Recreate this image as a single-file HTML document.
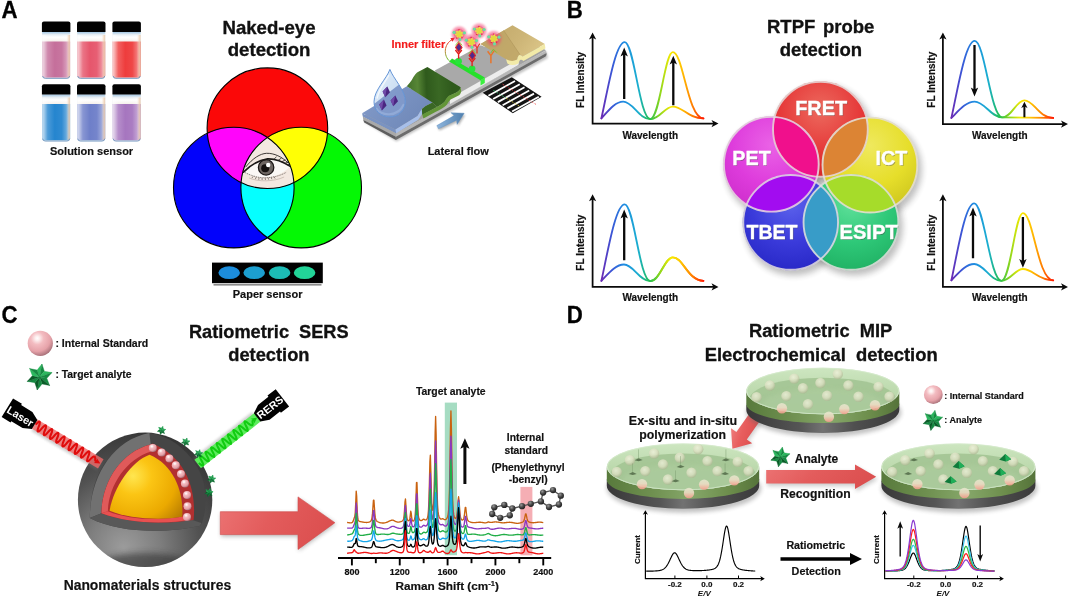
<!DOCTYPE html>
<html><head><meta charset="utf-8"><title>figure</title>
<style>
html,body{margin:0;padding:0;background:#fff;overflow:hidden;width:1072px;height:598px;font-family:"Liberation Sans",sans-serif;}
svg{display:block;}
</style></head>
<body>
<svg width="1072" height="598" viewBox="0 0 1072 598">
<rect width="1072" height="598" fill="#fff"/>
<g opacity="0.999">

<defs>
<filter id="b1" x="-20%" y="-20%" width="140%" height="140%"><feGaussianBlur stdDeviation="1"/></filter>
<filter id="b2" x="-30%" y="-30%" width="160%" height="160%"><feGaussianBlur stdDeviation="2"/></filter>
<filter id="b3" x="-30%" y="-30%" width="160%" height="160%"><feGaussianBlur stdDeviation="3"/></filter>
<filter id="b05" x="-20%" y="-20%" width="140%" height="140%"><feGaussianBlur stdDeviation="0.5"/></filter>
<filter id="soft" x="-5%" y="-5%" width="110%" height="110%"><feGaussianBlur stdDeviation="0.35"/></filter>
<radialGradient id="gPink" cx="0.38" cy="0.3" r="0.72"><stop offset="0" stop-color="#fff"/><stop offset="0.12" stop-color="#fdeeee"/><stop offset="0.35" stop-color="#f3bcc1"/><stop offset="0.72" stop-color="#e6a2a9"/><stop offset="1" stop-color="#a9727a"/></radialGradient>
<radialGradient id="gCream" cx="0.42" cy="0.36" r="0.68"><stop offset="0" stop-color="#f0f2dc"/><stop offset="0.55" stop-color="#dcdfc2"/><stop offset="1" stop-color="#a8b48e"/></radialGradient>
<linearGradient id="gCreamP" x1="0" y1="0" x2="0" y2="1"><stop offset="0" stop-color="#e4e6cc"/><stop offset="0.45" stop-color="#ecdcc4"/><stop offset="0.8" stop-color="#f4b4a0"/><stop offset="1" stop-color="#ee9a8a"/></linearGradient>
<radialGradient id="gAtom" cx="0.38" cy="0.32" r="0.7"><stop offset="0" stop-color="#9a9a9a"/><stop offset="0.5" stop-color="#4a4a4a"/><stop offset="1" stop-color="#1c1c1c"/></radialGradient>
</defs>
<text transform="translate(1.4 17.8) scale(0.955 1)" x="0" y="0" font-size="23.3" fill="#000" stroke="#000" stroke-width="0.3" font-family="Liberation Sans, sans-serif" font-weight="bold">A</text>
<defs><linearGradient id="vl0" x1="0" x2="1" y1="0" y2="0"><stop offset="0" stop-color="#fff" stop-opacity="0.75"/><stop offset="0.08" stop-color="#fff" stop-opacity="0.55"/><stop offset="0.2" stop-color="#fff" stop-opacity="0.18"/><stop offset="0.45" stop-color="#fff" stop-opacity="0"/><stop offset="0.7" stop-color="#fff" stop-opacity="0.05"/><stop offset="0.86" stop-color="#fff" stop-opacity="0.3"/><stop offset="0.95" stop-color="#f2d6bc" stop-opacity="0.8"/><stop offset="1" stop-color="#e6c8ac" stop-opacity="0.9"/></linearGradient><linearGradient id="vl1" x1="0" x2="1" y1="0" y2="0"><stop offset="0" stop-color="#fff" stop-opacity="0.75"/><stop offset="0.08" stop-color="#fff" stop-opacity="0.55"/><stop offset="0.2" stop-color="#fff" stop-opacity="0.18"/><stop offset="0.45" stop-color="#fff" stop-opacity="0"/><stop offset="0.7" stop-color="#fff" stop-opacity="0.05"/><stop offset="0.86" stop-color="#fff" stop-opacity="0.3"/><stop offset="0.95" stop-color="#f2d6bc" stop-opacity="0.8"/><stop offset="1" stop-color="#e6c8ac" stop-opacity="0.9"/></linearGradient><linearGradient id="vl2" x1="0" x2="1" y1="0" y2="0"><stop offset="0" stop-color="#fff" stop-opacity="0.75"/><stop offset="0.08" stop-color="#fff" stop-opacity="0.55"/><stop offset="0.2" stop-color="#fff" stop-opacity="0.18"/><stop offset="0.45" stop-color="#fff" stop-opacity="0"/><stop offset="0.7" stop-color="#fff" stop-opacity="0.05"/><stop offset="0.86" stop-color="#fff" stop-opacity="0.3"/><stop offset="0.95" stop-color="#f2d6bc" stop-opacity="0.8"/><stop offset="1" stop-color="#e6c8ac" stop-opacity="0.9"/></linearGradient><linearGradient id="vl3" x1="0" x2="1" y1="0" y2="0"><stop offset="0" stop-color="#fff" stop-opacity="0.75"/><stop offset="0.08" stop-color="#fff" stop-opacity="0.55"/><stop offset="0.2" stop-color="#fff" stop-opacity="0.18"/><stop offset="0.45" stop-color="#fff" stop-opacity="0"/><stop offset="0.7" stop-color="#fff" stop-opacity="0.05"/><stop offset="0.86" stop-color="#fff" stop-opacity="0.3"/><stop offset="0.95" stop-color="#f2d6bc" stop-opacity="0.8"/><stop offset="1" stop-color="#e6c8ac" stop-opacity="0.9"/></linearGradient><linearGradient id="vl4" x1="0" x2="1" y1="0" y2="0"><stop offset="0" stop-color="#fff" stop-opacity="0.75"/><stop offset="0.08" stop-color="#fff" stop-opacity="0.55"/><stop offset="0.2" stop-color="#fff" stop-opacity="0.18"/><stop offset="0.45" stop-color="#fff" stop-opacity="0"/><stop offset="0.7" stop-color="#fff" stop-opacity="0.05"/><stop offset="0.86" stop-color="#fff" stop-opacity="0.3"/><stop offset="0.95" stop-color="#f2d6bc" stop-opacity="0.8"/><stop offset="1" stop-color="#e6c8ac" stop-opacity="0.9"/></linearGradient><linearGradient id="vl5" x1="0" x2="1" y1="0" y2="0"><stop offset="0" stop-color="#fff" stop-opacity="0.75"/><stop offset="0.08" stop-color="#fff" stop-opacity="0.55"/><stop offset="0.2" stop-color="#fff" stop-opacity="0.18"/><stop offset="0.45" stop-color="#fff" stop-opacity="0"/><stop offset="0.7" stop-color="#fff" stop-opacity="0.05"/><stop offset="0.86" stop-color="#fff" stop-opacity="0.3"/><stop offset="0.95" stop-color="#f2d6bc" stop-opacity="0.8"/><stop offset="1" stop-color="#e6c8ac" stop-opacity="0.9"/></linearGradient><linearGradient id="vneck" x1="0" x2="0" y1="0" y2="1"><stop offset="0" stop-color="#9fc4e2"/><stop offset="0.25" stop-color="#e4ecf2"/><stop offset="0.5" stop-color="#ffffff"/><stop offset="1" stop-color="#f3ece6"/></linearGradient></defs>
<rect x="42.199999999999996" y="30.900000000000002" width="27.9" height="47.5" rx="2.2" fill="#dfe8ef"/>
<rect x="42.199999999999996" y="31.900000000000002" width="27.9" height="10.500000000000004" fill="url(#vneck)"/>
<path d="M42.199999999999996 41.400000000000006 H70.10000000000001 V75.80000000000001 Q70.10000000000001 77.60000000000001 67.80000000000001 77.60000000000001 H44.5 Q42.199999999999996 77.60000000000001 42.199999999999996 75.80000000000001 Z" fill="#c56f9b"/>
<path d="M42.199999999999996 34.900000000000006 H70.10000000000001 V75.80000000000001 Q70.10000000000001 77.60000000000001 67.80000000000001 77.60000000000001 H44.5 Q42.199999999999996 77.60000000000001 42.199999999999996 75.80000000000001 Z" fill="url(#vl0)"/>
<path d="M42.699999999999996 76.0 Q42.9 78.4 45.4 78.4 H66.9 Q69.4 78.4 69.60000000000001 76.0" fill="none" stroke="#5b86b4" stroke-width="0.9" opacity="0.8"/>
<path d="M41.9 31.900000000000002 V23.6 Q41.9 21.6 43.9 21.6 H68.4 Q70.4 21.6 70.4 23.6 V31.900000000000002 Z" fill="#000"/>
<rect x="77.3" y="30.900000000000002" width="27.9" height="47.5" rx="2.2" fill="#dfe8ef"/>
<rect x="77.3" y="31.900000000000002" width="27.9" height="10.500000000000004" fill="url(#vneck)"/>
<path d="M77.3 41.400000000000006 H105.2 V75.80000000000001 Q105.2 77.60000000000001 102.9 77.60000000000001 H79.6 Q77.3 77.60000000000001 77.3 75.80000000000001 Z" fill="#e6566c"/>
<path d="M77.3 34.900000000000006 H105.2 V75.80000000000001 Q105.2 77.60000000000001 102.9 77.60000000000001 H79.6 Q77.3 77.60000000000001 77.3 75.80000000000001 Z" fill="url(#vl1)"/>
<path d="M77.8 76.0 Q78.0 78.4 80.5 78.4 H102.0 Q104.5 78.4 104.7 76.0" fill="none" stroke="#5b86b4" stroke-width="0.9" opacity="0.8"/>
<path d="M77.0 31.900000000000002 V23.6 Q77.0 21.6 79.0 21.6 H103.5 Q105.5 21.6 105.5 23.6 V31.900000000000002 Z" fill="#000"/>
<rect x="112.7" y="30.900000000000002" width="27.9" height="47.5" rx="2.2" fill="#dfe8ef"/>
<rect x="112.7" y="31.900000000000002" width="27.9" height="10.500000000000004" fill="url(#vneck)"/>
<path d="M112.7 41.400000000000006 H140.6 V75.80000000000001 Q140.6 77.60000000000001 138.3 77.60000000000001 H115.0 Q112.7 77.60000000000001 112.7 75.80000000000001 Z" fill="#ee3d3d"/>
<path d="M112.7 34.900000000000006 H140.6 V75.80000000000001 Q140.6 77.60000000000001 138.3 77.60000000000001 H115.0 Q112.7 77.60000000000001 112.7 75.80000000000001 Z" fill="url(#vl2)"/>
<path d="M113.2 76.0 Q113.4 78.4 115.9 78.4 H137.4 Q139.9 78.4 140.1 76.0" fill="none" stroke="#5b86b4" stroke-width="0.9" opacity="0.8"/>
<path d="M112.4 31.900000000000002 V23.6 Q112.4 21.6 114.4 21.6 H138.9 Q140.9 21.6 140.9 23.6 V31.900000000000002 Z" fill="#000"/>
<rect x="42.199999999999996" y="93.6" width="27.9" height="47.5" rx="2.2" fill="#dfe8ef"/>
<rect x="42.199999999999996" y="94.6" width="27.9" height="10.5" fill="url(#vneck)"/>
<path d="M42.199999999999996 104.1 H70.10000000000001 V138.5 Q70.10000000000001 140.29999999999998 67.80000000000001 140.29999999999998 H44.5 Q42.199999999999996 140.29999999999998 42.199999999999996 138.5 Z" fill="#2585cf"/>
<path d="M42.199999999999996 97.6 H70.10000000000001 V138.5 Q70.10000000000001 140.29999999999998 67.80000000000001 140.29999999999998 H44.5 Q42.199999999999996 140.29999999999998 42.199999999999996 138.5 Z" fill="url(#vl3)"/>
<path d="M42.699999999999996 138.7 Q42.9 141.1 45.4 141.1 H66.9 Q69.4 141.1 69.60000000000001 138.7" fill="none" stroke="#5b86b4" stroke-width="0.9" opacity="0.8"/>
<path d="M41.9 94.6 V86.3 Q41.9 84.3 43.9 84.3 H68.4 Q70.4 84.3 70.4 86.3 V94.6 Z" fill="#000"/>
<rect x="77.3" y="93.6" width="27.9" height="47.5" rx="2.2" fill="#dfe8ef"/>
<rect x="77.3" y="94.6" width="27.9" height="10.5" fill="url(#vneck)"/>
<path d="M77.3 104.1 H105.2 V138.5 Q105.2 140.29999999999998 102.9 140.29999999999998 H79.6 Q77.3 140.29999999999998 77.3 138.5 Z" fill="#6e7fc9"/>
<path d="M77.3 97.6 H105.2 V138.5 Q105.2 140.29999999999998 102.9 140.29999999999998 H79.6 Q77.3 140.29999999999998 77.3 138.5 Z" fill="url(#vl4)"/>
<path d="M77.8 138.7 Q78.0 141.1 80.5 141.1 H102.0 Q104.5 141.1 104.7 138.7" fill="none" stroke="#5b86b4" stroke-width="0.9" opacity="0.8"/>
<path d="M77.0 94.6 V86.3 Q77.0 84.3 79.0 84.3 H103.5 Q105.5 84.3 105.5 86.3 V94.6 Z" fill="#000"/>
<rect x="112.7" y="93.6" width="27.9" height="47.5" rx="2.2" fill="#dfe8ef"/>
<rect x="112.7" y="94.6" width="27.9" height="10.5" fill="url(#vneck)"/>
<path d="M112.7 104.1 H140.6 V138.5 Q140.6 140.29999999999998 138.3 140.29999999999998 H115.0 Q112.7 140.29999999999998 112.7 138.5 Z" fill="#a676bf"/>
<path d="M112.7 97.6 H140.6 V138.5 Q140.6 140.29999999999998 138.3 140.29999999999998 H115.0 Q112.7 140.29999999999998 112.7 138.5 Z" fill="url(#vl5)"/>
<path d="M113.2 138.7 Q113.4 141.1 115.9 141.1 H137.4 Q139.9 141.1 140.1 138.7" fill="none" stroke="#5b86b4" stroke-width="0.9" opacity="0.8"/>
<path d="M112.4 94.6 V86.3 Q112.4 84.3 114.4 84.3 H138.9 Q140.9 84.3 140.9 86.3 V94.6 Z" fill="#000"/>
<text x="91.6" y="154.6" font-size="11" text-anchor="middle" fill="#111" font-family="Liberation Sans, sans-serif" font-weight="bold"  stroke="#111" stroke-width="0.18">Solution sensor</text>
<text x="269.0" y="33.5" font-size="18.6" text-anchor="middle" fill="#111" font-family="Liberation Sans, sans-serif" font-weight="bold" stroke="#111" stroke-width="0.35">Naked-eye</text>
<text x="269.1" y="56.2" font-size="18.6" text-anchor="middle" fill="#111" font-family="Liberation Sans, sans-serif" font-weight="bold" stroke="#111" stroke-width="0.35">detection</text>
<defs><clipPath id="cR"><circle cx="267.4" cy="128.2" r="60.3"/></clipPath><clipPath id="cB"><circle cx="233.8" cy="187.6" r="60.3"/></clipPath><clipPath id="cG"><circle cx="301.2" cy="187.6" r="60.3"/></clipPath></defs>
<circle cx="267.4" cy="128.2" r="60.3" fill="#fb0808"/>
<circle cx="233.8" cy="187.6" r="60.3" fill="#0202fb"/>
<circle cx="301.2" cy="187.6" r="60.3" fill="#04f804"/>
<g clip-path="url(#cR)"><circle cx="233.8" cy="187.6" r="60.3" fill="#ff05fb"/><circle cx="301.2" cy="187.6" r="60.3" fill="#ffff05"/></g>
<g clip-path="url(#cB)"><circle cx="301.2" cy="187.6" r="60.3" fill="#05ffff"/></g>
<g clip-path="url(#cR)"><g clip-path="url(#cB)"><g clip-path="url(#cG)"><rect x="230" y="125" width="80" height="70" fill="#f3e8e0"/>
<g transform="translate(266.1,167.4)">
<path d="M-22.3 4.6 C-15 -3 -8 -7 1.5 -8.3 C8 -8.6 16 -6 24 -1 C18 5.5 8 10.5 -3.5 10 C-11 9.6 -18 7.4 -22.3 4.6Z" fill="#fbf8f5"/>
<path d="M-20.6 -0.2 C-13 -9.5 -6 -13.6 0.3 -14.1 C8 -14.4 16 -10.5 21.8 -4.6" fill="none" stroke="#2a2522" stroke-width="0.9"/>
<circle cx="0" cy="0" r="7.7" fill="#6e6662" stroke="#1c1816" stroke-width="1.3"/>
<circle cx="-0.9" cy="0.9" r="4" fill="#15110f"/>
<circle cx="2.1" cy="-2.4" r="2.2" fill="#fff"/>
<path d="M-22.6 4.8 C-15 -3 -8 -7.2 1.5 -8.5 C8 -8.8 16 -6.2 24.2 -1" fill="none" stroke="#1c1816" stroke-width="1.7" stroke-linecap="round"/>
<path d="M12 -7 l3.4 -2.4 M15.6 -5.6 l3.8 -2 M18.6 -4 l4 -1.6 M21 -2.6 l4 -0.6 M8 -8.2 l2.4 -2.6" stroke="#2a2522" stroke-width="0.8" fill="none"/>
<path d="M-21 5.2 C-14 8.6 -8 10.2 -3.5 10.3 C6 10.6 14 8.4 20 5" fill="none" stroke="#5a524c" stroke-width="0.7" stroke-dasharray="1.2 0.7"/>
<path d="M-13 9 l-1.2 1.8 M-10 9.8 l-0.8 2 M-7 10.4 l-0.4 2 M-4 10.6 l0 2 M-1 10.6 l0.4 2 M2 10.4 l0.6 1.9 M5 10 l0.8 1.8 M8 9.4 l1 1.7" stroke="#4a423c" stroke-width="0.6" fill="none"/>
<path d="M-17 10.6 C-8 14.6 8 14.4 18 9.6" fill="none" stroke="#b9aaa0" stroke-width="0.6"/>
</g>
</g></g></g>
<circle cx="267.4" cy="128.2" r="60.3" fill="none" stroke="#000" stroke-width="1.1"/>
<circle cx="233.8" cy="187.6" r="60.3" fill="none" stroke="#000" stroke-width="1.1"/>
<circle cx="301.2" cy="187.6" r="60.3" fill="none" stroke="#000" stroke-width="1.1"/>
<rect x="213.5" y="284" width="108" height="1.6" fill="#8c8c8c"/>
<rect x="212" y="262.6" width="110.8" height="20.6" fill="#000"/>
<ellipse cx="229.2" cy="272.7" rx="10.8" ry="6.4" fill="#1a8ddc" filter="url(#b05)"/>
<ellipse cx="254.2" cy="272.7" rx="10.8" ry="6.4" fill="#1b9fd0" filter="url(#b05)"/>
<ellipse cx="279.6" cy="272.7" rx="10.8" ry="6.4" fill="#1fbcb6" filter="url(#b05)"/>
<ellipse cx="304.6" cy="272.7" rx="10.8" ry="6.4" fill="#22d498" filter="url(#b05)"/>
<text x="267.6" y="298" font-size="11" text-anchor="middle" fill="#111" font-family="Liberation Sans, sans-serif" font-weight="bold"  stroke="#111" stroke-width="0.18">Paper sensor</text><defs>
<linearGradient id="lfGreen" gradientUnits="userSpaceOnUse" x1="408" y1="88" x2="452" y2="86"><stop offset="0" stop-color="#44722b"/><stop offset="0.22" stop-color="#578636"/><stop offset="0.42" stop-color="#2f5a1c"/><stop offset="0.7" stop-color="#3a6824"/><stop offset="1" stop-color="#2f5a1c"/></linearGradient>
<linearGradient id="lfBlue" x1="0" y1="0" x2="1" y2="0.6"><stop offset="0" stop-color="#849cca"/><stop offset="1" stop-color="#6f88b8"/></linearGradient>
<linearGradient id="lfBeige" gradientUnits="userSpaceOnUse" x1="490" y1="30" x2="530" y2="60"><stop offset="0" stop-color="#c2a96b"/><stop offset="0.6" stop-color="#cdb577"/><stop offset="1" stop-color="#d9c385"/></linearGradient>
<linearGradient id="lfDrop" x1="0" y1="0" x2="0" y2="1"><stop offset="0" stop-color="#e2effb" stop-opacity="0.95"/><stop offset="0.42" stop-color="#bcd5f0" stop-opacity="0.92"/><stop offset="0.5" stop-color="#86a2d2" stop-opacity="0.95"/><stop offset="1" stop-color="#6f8cc2" stop-opacity="0.97"/></linearGradient>
<linearGradient id="lfArr" x1="0" y1="0" x2="1" y2="0"><stop offset="0" stop-color="#8fb5dc"/><stop offset="1" stop-color="#4f7fae"/></linearGradient>
</defs>
<polygon points="364.0,122.0 396.5,141.5 548.0,58.0 546.0,51.0" fill="#888" filter="url(#b1)" opacity="0.5"/>
<polygon points="362.8,116.5 396.2,133.2 546.0,50.3 513.0,31.5" fill="#a3a3a3" />
<path d="M396.2 133.2 L544.6 51.2 Q546.6 50.4 546.5 53 L395.9 136.7 Z" fill="#b7b7b7"/>
<path d="M395.9 136.7 L546.5 53 Q546.9 55.6 545.6 56.6 L395.9 139.9 Z" fill="#6c6c6c"/>
<polygon points="362.8,116.5 396.2,133.2 395.9,136.7 363.2,119.7" fill="#a9a9a9" />
<polygon points="363.2,119.7 395.9,136.7 395.9,139.9 364.2,122.6" fill="#5e5e5e" />
<polygon points="434.8,70.6 480.9,45.2 517.0,60.5 450.0,98.6" fill="#a9a9a9" />
<path d="M449.6 98.4 L516.6 60.6 Q519.8 61.6 518.4 65.0 L450 104.0 Z" fill="#ececec"/>
<polygon points="449.2,61.6 452.0,58.4 484.8,77.5 480.5,80.3" fill="#25e02a" />
<polygon points="480.5,80.3 484.8,77.5 484.8,83.0 480.5,85.6" fill="#3bf03f" />
<path d="M480.5 44.1 L512.5 25.2 L544.9 44.1 L522.6 56.6 Q520.6 54.2 518.6 55.2 Q517.4 57 517.2 59.8 Q512 62.6 506.6 59.6 Z" fill="url(#lfBeige)"/>
<path d="M480.5 44.1 L503.6 30.4 L520 54.6 Q517.6 56 517.2 59.8 Q512 62.6 506.6 59.6 Z" fill="#bea566" opacity="0.8"/>
<path d="M503.6 30.4 L520 54.6" stroke="#a89054" stroke-width="0.6" fill="none" opacity="0.8"/>
<path d="M506 59.2 Q512 62.4 517.2 59.6 Q517.4 57 518.8 55.2 Q520.8 54.4 522.6 56.6 L544.9 44.1 L545.4 48.4 L523.4 61 Q521.4 59 520 60 Q519.2 61.4 518.4 63.4 Q512 66.6 507.4 63.4 Z" fill="#f2eaa8"/>
<path d="M362.1 113.3 L395.5 129.6 L417.5 116.1 Q419.6 112.6 421.8 109 Q426 105.4 432.4 102.6 L406.8 86.3 Z" fill="url(#lfBlue)"/>
<polygon points="362.1,113.3 395.5,129.6 396.2,133.2 362.8,116.5" fill="#7a93c2" />
<path d="M395.5 129.6 L417.5 116.1 Q419.6 112.6 421.8 109 Q426 105.4 432.4 102.6 L433.1 105.9 Q427 108.8 422.9 112.8 Q420.6 116.4 418.2 119.7 L396.2 133.2 Z" fill="#a7bfea"/>
<path d="M406.8 86.3 Q409.6 83 411.8 79.9 Q413.6 76.4 415.4 74.2 Q417 72.2 418.9 71.4 L427.4 67.1 L460.7 87.3 Q460.4 90.4 457 92.2 L449 96 Q446.6 98.4 445 101.6 Q442 104.8 437 107 L432.4 102.6 Z" fill="url(#lfGreen)"/>
<path d="M432.4 102.6 L437 107 L422.2 114.9 L421.8 109 Q426 105.4 432.4 102.6 Z" fill="#3a6824"/>
<path d="M422.2 114.6 L434.6 108.2 Q441 105.4 444.2 102.2 Q446 98.6 448.4 96 L457 92.2 Q460.4 90.4 460.7 87.3 L461.2 91.2 Q460.8 94.6 457.6 96 L450.6 99.4 Q448.4 101.6 446.6 105 Q443 108.6 435.4 111.9 L423.4 118.4 Z" fill="#639638"/>
<defs><clipPath id="dropClip"><path d="M389.9 69.4 C393.4 79 405.6 90 405.3 101.8 C405.1 110.8 398.2 116.9 389.6 116.9 C381 116.9 374 110.8 374 101.8 C374 90 386.6 79 389.9 69.4Z"/></clipPath><linearGradient id="dropHi" x1="0" y1="0" x2="1" y2="1"><stop offset="0" stop-color="#e4f0fb"/><stop offset="1" stop-color="#b4cdea"/></linearGradient></defs>
<path d="M389.9 69.4 C393.4 79 405.6 90 405.3 101.8 C405.1 110.8 398.2 116.9 389.6 116.9 C381 116.9 374 110.8 374 101.8 C374 90 386.6 79 389.9 69.4Z" fill="url(#dropHi)" opacity="0.93"/>
<g clip-path="url(#dropClip)"><polygon points="368,108.6 402,82.2 412,80 412,122 368,122" fill="#7c96c8" opacity="0.95"/><path d="M376 108 C380 116 398 118 404 104" fill="none" stroke="#9fb8e2" stroke-width="2.2" opacity="0.55"/></g>
<path d="M389.9 69.4 C393.4 79 405.6 90 405.3 101.8 C405.1 110.8 398.2 116.9 389.6 116.9 C381 116.9 374 110.8 374 101.8 C374 90 386.6 79 389.9 69.4Z" fill="none" stroke="#6494d6" stroke-width="1.0"/>
<path d="M377.2 98 C378.2 90.5 384.6 82.6 388.6 75.6" fill="none" stroke="#fff" stroke-width="1.4" opacity="0.7" stroke-linecap="round"/>
<polygon points="387.3,86.4 390.0,92.2 385.3,97.2 382.6,91.4" fill="#4a2680" />
<polygon points="387.3,86.4 386.1,91.8 385.3,97.2 382.6,91.4" fill="#6f4aa8" />
<polygon points="395.3,95.5 398.0,101.3 393.3,106.3 390.6,100.5" fill="#4a2680" />
<polygon points="395.3,95.5 394.1,100.9 393.3,106.3 390.6,100.5" fill="#6f4aa8" />
<polygon points="383.9,99.6 386.6,105.4 381.9,110.4 379.2,104.6" fill="#4a2680" />
<polygon points="383.9,99.6 382.7,105.0 381.9,110.4 379.2,104.6" fill="#6f4aa8" />
<polygon points="465.2,115.0 458.1,126.2 457.6,122.0 439.5,130.6 437.8,127.4 455.1,117.4 451.9,114.5" fill="#666" filter="url(#b1)" opacity="0.5"/>
<polygon points="464.2,113.2 457.1,124.4 456.6,120.2 438.5,128.8 436.8,125.6 454.1,115.6 450.9,112.7" fill="url(#lfArr)" stroke="#5d8dbd" stroke-width="0.4"/>
<polygon points="482.7,92.8 511.8,77.2 541.6,96.7 512.8,113.2" fill="#141414" />
<line x1="488.4" y1="95.8" x2="515.0" y2="81.0" stroke="#fff" stroke-width="1.8"/>
<line x1="493.1" y1="99.0" x2="519.8" y2="84.2" stroke="#fff" stroke-width="1.8"/>
<line x1="497.9" y1="102.1" x2="524.5" y2="87.3" stroke="#fff" stroke-width="1.8"/>
<line x1="502.6" y1="105.2" x2="529.2" y2="90.5" stroke="#fff" stroke-width="1.8"/>
<line x1="507.4" y1="108.4" x2="534.0" y2="93.6" stroke="#fff" stroke-width="1.8"/>
<line x1="512.1" y1="111.5" x2="538.8" y2="96.8" stroke="#fff" stroke-width="1.8"/>
<path d="M493.4 90.4 L506 98" stroke="#42d67e" stroke-width="0.8" stroke-dasharray="1.8 1.6" fill="none"/>
<path d="M506 98 L520 106.5" stroke="#e8d840" stroke-width="0.8" stroke-dasharray="1.8 1.6" fill="none"/>
<path d="M502.6 84.2 L536 104.4" stroke="#ee4a4a" stroke-width="0.8" stroke-dasharray="1.8 1.6" fill="none"/>
<defs><linearGradient id="arcG" x1="0" y1="0" x2="0" y2="1"><stop offset="0" stop-color="#f02020"/><stop offset="0.45" stop-color="#c87830"/><stop offset="1" stop-color="#5cc828"/></linearGradient></defs>
<path d="M449.8 61.4 C443.4 56 443.4 44 452.6 39.4" fill="none" stroke="url(#arcG)" stroke-width="1.0"/>
<polygon points="455.0,37.6 450.4,38.2 452.6,41.8" fill="#ee2020" />
<circle cx="458.6" cy="61.2" r="3.3" fill="#28e23c"/>
<path d="M458.6 58.7 V53.6 M458.6 54.0 L455.40000000000003 50.0 M458.6 54.0 L461.8 50.0" stroke="#e02020" stroke-width="1.4" fill="none"/>
<polygon points="458.8,42.8 462.0,47.4 458.8,52.0 455.6,47.4" fill="#4f2a8c" stroke="#e02828" stroke-width="1.1"/>
<path d="M455.40000000000003 45.4 L458.8 41.199999999999996 L462.20000000000005 45.4" fill="none" stroke="#8cc832" stroke-width="0.9"/>
<circle cx="472.1" cy="68.8" r="3.3" fill="#28e23c"/>
<path d="M472.1 66.3 V61.7 M472.1 62.1 L468.90000000000003 58.1 M472.1 62.1 L475.3 58.1" stroke="#e02020" stroke-width="1.4" fill="none"/>
<polygon points="472.3,50.9 475.5,55.5 472.3,60.1 469.1,55.5" fill="#4f2a8c" stroke="#e02828" stroke-width="1.1"/>
<path d="M468.90000000000003 53.5 L472.3 49.3 L475.70000000000005 53.5" fill="none" stroke="#8cc832" stroke-width="0.9"/>
<circle cx="479.1" cy="30.8" r="7.3999999999999995" fill="#f2406f" opacity="0.55" filter="url(#b1)"/><circle cx="479.1" cy="30.8" r="5.148" fill="#ec4c78" opacity="0.5"/><circle cx="479.1" cy="30.8" r="2.9699999999999998" fill="#e2d83e"/><circle cx="482.1" cy="32.1" r="0.85" fill="#eee24a"/><circle cx="480.0" cy="34.0" r="0.85" fill="#eee24a"/><circle cx="477.2" cy="33.5" r="0.85" fill="#eee24a"/><circle cx="475.8" cy="31.0" r="0.85" fill="#eee24a"/><circle cx="476.9" cy="28.3" r="0.85" fill="#eee24a"/><circle cx="479.7" cy="27.6" r="0.85" fill="#eee24a"/><circle cx="482.0" cy="29.2" r="0.85" fill="#eee24a"/><circle cx="481.8" cy="34.2" r="0.7" fill="#e2323f"/><circle cx="476.7" cy="34.4" r="0.7" fill="#e2323f"/><circle cx="474.9" cy="29.6" r="0.7" fill="#e2323f"/><circle cx="478.9" cy="26.4" r="0.7" fill="#e2323f"/><circle cx="483.2" cy="29.3" r="0.7" fill="#e2323f"/><circle cx="474.3" cy="29.0" r="1.6" fill="#68dfa2"/><circle cx="484.1" cy="29.5" r="1.6" fill="#68dfa2"/><circle cx="479.8" cy="35.9" r="1.6" fill="#68dfa2"/>
<path d="M477 53.6 V47.8 M477 48 L474.8 44.2 M477 48 L479.8 43.6" stroke="#e03a20" stroke-width="1.3" fill="none"/>
<circle cx="459.2" cy="34.2" r="7.7" fill="#f2406f" opacity="0.55" filter="url(#b1)"/><circle cx="459.2" cy="34.2" r="5.382000000000001" fill="#ec4c78" opacity="0.5"/><circle cx="459.2" cy="34.2" r="3.1050000000000004" fill="#e2d83e"/><circle cx="462.4" cy="35.5" r="0.85" fill="#eee24a"/><circle cx="460.1" cy="37.5" r="0.85" fill="#eee24a"/><circle cx="457.2" cy="37.0" r="0.85" fill="#eee24a"/><circle cx="455.8" cy="34.4" r="0.85" fill="#eee24a"/><circle cx="456.9" cy="31.6" r="0.85" fill="#eee24a"/><circle cx="459.8" cy="30.8" r="0.85" fill="#eee24a"/><circle cx="462.2" cy="32.6" r="0.85" fill="#eee24a"/><circle cx="462.0" cy="37.8" r="0.7" fill="#e2323f"/><circle cx="456.7" cy="38.0" r="0.7" fill="#e2323f"/><circle cx="454.8" cy="33.0" r="0.7" fill="#e2323f"/><circle cx="459.0" cy="29.7" r="0.7" fill="#e2323f"/><circle cx="463.5" cy="32.6" r="0.7" fill="#e2323f"/><circle cx="454.1" cy="32.4" r="1.6" fill="#68dfa2"/><circle cx="464.4" cy="32.8" r="1.6" fill="#68dfa2"/><circle cx="459.9" cy="39.5" r="1.6" fill="#68dfa2"/>
<circle cx="471.3" cy="42.0" r="7.7" fill="#f2406f" opacity="0.55" filter="url(#b1)"/><circle cx="471.3" cy="42.0" r="5.382000000000001" fill="#ec4c78" opacity="0.5"/><circle cx="471.3" cy="42.0" r="3.1050000000000004" fill="#e2d83e"/><circle cx="474.5" cy="43.3" r="0.85" fill="#eee24a"/><circle cx="472.2" cy="45.3" r="0.85" fill="#eee24a"/><circle cx="469.3" cy="44.8" r="0.85" fill="#eee24a"/><circle cx="467.9" cy="42.2" r="0.85" fill="#eee24a"/><circle cx="469.0" cy="39.4" r="0.85" fill="#eee24a"/><circle cx="471.9" cy="38.6" r="0.85" fill="#eee24a"/><circle cx="474.3" cy="40.4" r="0.85" fill="#eee24a"/><circle cx="474.1" cy="45.6" r="0.7" fill="#e2323f"/><circle cx="468.8" cy="45.8" r="0.7" fill="#e2323f"/><circle cx="466.9" cy="40.8" r="0.7" fill="#e2323f"/><circle cx="471.1" cy="37.5" r="0.7" fill="#e2323f"/><circle cx="475.6" cy="40.4" r="0.7" fill="#e2323f"/><circle cx="466.2" cy="40.2" r="1.6" fill="#68dfa2"/><circle cx="476.5" cy="40.6" r="1.6" fill="#68dfa2"/><circle cx="472.0" cy="47.3" r="1.6" fill="#68dfa2"/>
<path d="M490.9 63.3 V55.3 M490.9 55.6 L487.6 51.2 M490.9 55.6 L494.2 50.6" stroke="#e8742a" stroke-width="1.5" fill="none"/>
<path d="M490.6 53.2 L493.4 49.2 L496.8 52.6" stroke="#6cc23a" stroke-width="0.9" fill="none"/>
<circle cx="493.8" cy="38.6" r="7.7" fill="#f2406f" opacity="0.55" filter="url(#b1)"/><circle cx="493.8" cy="38.6" r="5.382000000000001" fill="#ec4c78" opacity="0.5"/><circle cx="493.8" cy="38.6" r="3.1050000000000004" fill="#e2d83e"/><circle cx="497.0" cy="39.9" r="0.85" fill="#eee24a"/><circle cx="494.7" cy="41.9" r="0.85" fill="#eee24a"/><circle cx="491.8" cy="41.4" r="0.85" fill="#eee24a"/><circle cx="490.4" cy="38.8" r="0.85" fill="#eee24a"/><circle cx="491.5" cy="36.0" r="0.85" fill="#eee24a"/><circle cx="494.4" cy="35.2" r="0.85" fill="#eee24a"/><circle cx="496.8" cy="37.0" r="0.85" fill="#eee24a"/><circle cx="496.6" cy="42.2" r="0.7" fill="#e2323f"/><circle cx="491.3" cy="42.4" r="0.7" fill="#e2323f"/><circle cx="489.4" cy="37.4" r="0.7" fill="#e2323f"/><circle cx="493.6" cy="34.1" r="0.7" fill="#e2323f"/><circle cx="498.1" cy="37.0" r="0.7" fill="#e2323f"/><circle cx="488.7" cy="36.8" r="1.6" fill="#68dfa2"/><circle cx="499.0" cy="37.2" r="1.6" fill="#68dfa2"/><circle cx="494.5" cy="43.9" r="1.6" fill="#68dfa2"/>
<text x="445.2" y="47.8" font-size="11" text-anchor="end" fill="#f31b1b" font-family="Liberation Sans, sans-serif" font-weight="bold"  stroke="#f31b1b" stroke-width="0.18">Inner filter</text>
<text x="458.2" y="154.8" font-size="11" text-anchor="middle" fill="#111" font-family="Liberation Sans, sans-serif" font-weight="bold"  stroke="#111" stroke-width="0.18">Lateral flow</text><text transform="translate(566.6999999999999 17.6) scale(0.955 1)" x="0" y="0" font-size="23.3" fill="#000" stroke="#000" stroke-width="0.3" font-family="Liberation Sans, sans-serif" font-weight="bold">B</text>
<text x="820.7" y="33.3" font-size="18.5" text-anchor="middle" fill="#111" font-family="Liberation Sans, sans-serif" font-weight="bold" word-spacing="2.6" stroke="#111" stroke-width="0.33">RTPF probe</text>
<text x="820.9" y="56.2" font-size="18.5" text-anchor="middle" fill="#111" font-family="Liberation Sans, sans-serif" font-weight="bold"  stroke="#111" stroke-width="0.33">detection</text>
<defs><linearGradient id="rb1" gradientUnits="userSpaceOnUse" x1="601.4" y1="0" x2="703.4" y2="0"><stop offset="0" stop-color="#6a2ab4"/><stop offset="0.1" stop-color="#3b55d6"/><stop offset="0.22" stop-color="#1f8ce2"/><stop offset="0.36" stop-color="#1aaed0"/><stop offset="0.47" stop-color="#22bf52"/><stop offset="0.56" stop-color="#7fd422"/><stop offset="0.68" stop-color="#f6ea00"/><stop offset="0.78" stop-color="#ffc400"/><stop offset="0.9" stop-color="#ff7a00"/><stop offset="1" stop-color="#ff1a00"/></linearGradient></defs>
<path d="M592.6 35.6 V123.6 H715.5" fill="none" stroke="#0a0a0a" stroke-width="1.75"/>
<path d="M592.6 32.6 l-3.6 7 l3.6 -1.8 l3.6 1.8 Z" fill="#0a0a0a"/>
<path d="M718.5 123.6 l-7 -3.6 l1.8 3.6 l-1.8 3.6 Z" fill="#0a0a0a"/>
<path d="M601.4 118.4 C606.85 112.69 614.48 101.60 623.20 101.60 C632.96 101.60 638.92 119.10 650.30 119.10 C659.75 119.10 664.70 106.60 672.80 106.60 C683.20 106.60 687.49 118.28 703.40 118.40 " fill="none" stroke="url(#rb1)" stroke-width="1.85" stroke-linejoin="round" stroke-linecap="round"/>
<path d="M601.4 118.4 C607.23 92.46 615.38 42.10 624.70 42.10 C633.92 42.10 639.55 119.10 650.30 119.10 C659.75 119.10 664.70 52.20 672.80 52.20 C683.20 52.20 687.49 117.74 703.40 118.40 " fill="none" stroke="url(#rb1)" stroke-width="1.85" stroke-linejoin="round" stroke-linecap="round"/>
<path d="M623.05 99 L623.05 55.00 L620.50 56.50 L624.2 47.6 L627.90 56.50 L625.35 55.00 L625.35 99 Z" fill="#0a0a0a"/>
<path d="M672.15 105.3 L672.15 63.10 L669.60 64.60 L673.3 55.7 L677.00 64.60 L674.45 63.10 L674.45 105.3 Z" fill="#0a0a0a"/>
<text x="584.2" y="80" font-size="10" text-anchor="middle" fill="#111" font-family="Liberation Sans, sans-serif" font-weight="bold" transform="rotate(-90 584.2 80)" stroke="#111" stroke-width="0.18">FL Intensity</text>
<text x="650.3" y="138.7" font-size="10" text-anchor="middle" fill="#111" font-family="Liberation Sans, sans-serif" font-weight="bold"  stroke="#111" stroke-width="0.18">Wavelength</text>
<defs><linearGradient id="rb2" gradientUnits="userSpaceOnUse" x1="951.4" y1="0" x2="1053.2" y2="0"><stop offset="0" stop-color="#6a2ab4"/><stop offset="0.1" stop-color="#3b55d6"/><stop offset="0.22" stop-color="#1f8ce2"/><stop offset="0.36" stop-color="#1aaed0"/><stop offset="0.47" stop-color="#22bf52"/><stop offset="0.56" stop-color="#7fd422"/><stop offset="0.68" stop-color="#f6ea00"/><stop offset="0.78" stop-color="#ffc400"/><stop offset="0.9" stop-color="#ff7a00"/><stop offset="1" stop-color="#ff1a00"/></linearGradient></defs>
<path d="M942.9 35.6 V124.1 H1065" fill="none" stroke="#0a0a0a" stroke-width="1.75"/>
<path d="M942.9 32.6 l-3.6 7 l3.6 -1.8 l3.6 1.8 Z" fill="#0a0a0a"/>
<path d="M1068 124.1 l-7 -3.6 l1.8 3.6 l-1.8 3.6 Z" fill="#0a0a0a"/>
<path d="M951.4 117.9 C957.23 112.36 965.38 101.60 974.70 101.60 C984.64 101.60 990.71 117.40 1002.30 117.40 L1053.2 117.9" fill="none" stroke="url(#rb2)" stroke-width="1.85" stroke-linejoin="round" stroke-linecap="round"/>
<path d="M951.4 117.9 C957.23 91.72 965.38 40.90 974.70 40.90 C984.64 40.90 990.71 117.40 1002.30 117.40 C1011.58 117.40 1016.44 100.30 1024.40 100.30 C1034.19 100.30 1038.22 117.72 1053.20 117.90 " fill="none" stroke="url(#rb2)" stroke-width="1.85" stroke-linejoin="round" stroke-linecap="round"/>
<path d="M973.35 45 L973.35 89.10 L970.80 87.60 L974.5 96.5 L978.20 87.60 L975.65 89.10 L975.65 45 Z" fill="#0a0a0a"/>
<path d="M1023.40 117.2 L1023.40 106.80 L1021.20 108.30 L1024.4 101.8 L1027.60 108.30 L1025.40 106.80 L1025.40 117.2 Z" fill="#0a0a0a"/>
<text x="935" y="79.7" font-size="10" text-anchor="middle" fill="#111" font-family="Liberation Sans, sans-serif" font-weight="bold" transform="rotate(-90 935 79.7)" stroke="#111" stroke-width="0.18">FL Intensity</text>
<text x="999.8" y="138.7" font-size="10" text-anchor="middle" fill="#111" font-family="Liberation Sans, sans-serif" font-weight="bold"  stroke="#111" stroke-width="0.18">Wavelength</text>
<defs><linearGradient id="rb3" gradientUnits="userSpaceOnUse" x1="601.4" y1="0" x2="703.4" y2="0"><stop offset="0" stop-color="#6a2ab4"/><stop offset="0.1" stop-color="#3b55d6"/><stop offset="0.22" stop-color="#1f8ce2"/><stop offset="0.36" stop-color="#1aaed0"/><stop offset="0.47" stop-color="#22bf52"/><stop offset="0.56" stop-color="#7fd422"/><stop offset="0.68" stop-color="#f6ea00"/><stop offset="0.78" stop-color="#ffc400"/><stop offset="0.9" stop-color="#ff7a00"/><stop offset="1" stop-color="#ff1a00"/></linearGradient></defs>
<path d="M592.6 197.3 V286.9 H715.5" fill="none" stroke="#0a0a0a" stroke-width="1.75"/>
<path d="M592.6 194.3 l-3.6 7 l3.6 -1.8 l3.6 1.8 Z" fill="#0a0a0a"/>
<path d="M718.5 286.9 l-7 -3.6 l1.8 3.6 l-1.8 3.6 Z" fill="#0a0a0a"/>
<path d="M601.4 280.8 C607.05 275.26 614.96 264.50 624.00 264.50 C633.47 264.50 639.25 281.10 650.30 281.10 C659.75 281.10 664.70 257.30 672.80 257.30 C683.20 257.30 687.49 280.56 703.40 280.80 " fill="none" stroke="url(#rb3)" stroke-width="1.85" stroke-linejoin="round" stroke-linecap="round"/>
<path d="M601.4 280.8 C607.23 254.82 615.38 204.40 624.70 204.40 C633.92 204.40 639.55 281.10 650.30 281.10 C659.75 281.10 664.70 257.30 672.80 257.30 C683.20 257.30 687.49 280.56 703.40 280.80 " fill="none" stroke="url(#rb3)" stroke-width="1.85" stroke-linejoin="round" stroke-linecap="round"/>
<path d="M623.05 260.3 L623.05 217.00 L620.50 218.50 L624.2 209.6 L627.90 218.50 L625.35 217.00 L625.35 260.3 Z" fill="#0a0a0a"/>
<text x="584.2" y="242.7" font-size="10" text-anchor="middle" fill="#111" font-family="Liberation Sans, sans-serif" font-weight="bold" transform="rotate(-90 584.2 242.7)" stroke="#111" stroke-width="0.18">FL Intensity</text>
<text x="650.3" y="301.1" font-size="10" text-anchor="middle" fill="#111" font-family="Liberation Sans, sans-serif" font-weight="bold"  stroke="#111" stroke-width="0.18">Wavelength</text>
<defs><linearGradient id="rb4" gradientUnits="userSpaceOnUse" x1="951.4" y1="0" x2="1053.2" y2="0"><stop offset="0" stop-color="#6a2ab4"/><stop offset="0.1" stop-color="#3b55d6"/><stop offset="0.22" stop-color="#1f8ce2"/><stop offset="0.36" stop-color="#1aaed0"/><stop offset="0.47" stop-color="#22bf52"/><stop offset="0.56" stop-color="#7fd422"/><stop offset="0.68" stop-color="#f6ea00"/><stop offset="0.78" stop-color="#ffc400"/><stop offset="0.9" stop-color="#ff7a00"/><stop offset="1" stop-color="#ff1a00"/></linearGradient></defs>
<path d="M942.9 197.3 V286.9 H1065" fill="none" stroke="#0a0a0a" stroke-width="1.75"/>
<path d="M942.9 194.3 l-3.6 7 l3.6 -1.8 l3.6 1.8 Z" fill="#0a0a0a"/>
<path d="M1068 286.9 l-7 -3.6 l1.8 3.6 l-1.8 3.6 Z" fill="#0a0a0a"/>
<path d="M951.4 280.3 C957.10 274.76 965.08 264.00 974.20 264.00 C984.03 264.00 990.03 280.80 1001.50 280.80 C1010.49 280.80 1015.20 269.00 1022.90 269.00 C1033.20 269.00 1037.44 280.19 1053.20 280.30 " fill="none" stroke="url(#rb4)" stroke-width="1.85" stroke-linejoin="round" stroke-linecap="round"/>
<path d="M951.4 280.3 C957.10 254.15 965.08 203.40 974.20 203.40 C984.03 203.40 990.03 280.80 1001.50 280.80 C1010.49 280.80 1015.20 213.10 1022.90 213.10 C1033.20 213.10 1037.44 279.63 1053.20 280.30 " fill="none" stroke="url(#rb4)" stroke-width="1.85" stroke-linejoin="round" stroke-linecap="round"/>
<path d="M971.85 258.3 L971.85 215.00 L969.30 216.50 L973 207.6 L976.70 216.50 L974.15 215.00 L974.15 258.3 Z" fill="#0a0a0a"/>
<path d="M1021.75 217.1 L1021.75 260.40 L1019.20 258.90 L1022.9 267.8 L1026.60 258.90 L1024.05 260.40 L1024.05 217.1 Z" fill="#0a0a0a"/>
<text x="935" y="242.7" font-size="10" text-anchor="middle" fill="#111" font-family="Liberation Sans, sans-serif" font-weight="bold" transform="rotate(-90 935 242.7)" stroke="#111" stroke-width="0.18">FL Intensity</text>
<text x="999.8" y="301.1" font-size="10" text-anchor="middle" fill="#111" font-family="Liberation Sans, sans-serif" font-weight="bold"  stroke="#111" stroke-width="0.18">Wavelength</text>
<defs><radialGradient id="fl0" cx="0.5" cy="0.3" r="0.75"><stop offset="0" stop-color="#ec6a5e"/><stop offset="0.55" stop-color="#e63a3a"/><stop offset="1" stop-color="#d22428"/></radialGradient><clipPath id="fc0"><circle cx="820.40" cy="129.30" r="48.0"/></clipPath><radialGradient id="fl1" cx="0.5" cy="0.3" r="0.75"><stop offset="0" stop-color="#efe95e"/><stop offset="0.55" stop-color="#e6de2a"/><stop offset="1" stop-color="#c9c21c"/></radialGradient><clipPath id="fc1"><circle cx="869.92" cy="165.06" r="48.0"/></clipPath><radialGradient id="fl2" cx="0.5" cy="0.3" r="0.75"><stop offset="0" stop-color="#5fe09a"/><stop offset="0.55" stop-color="#2ec878"/><stop offset="1" stop-color="#1faf62"/></radialGradient><clipPath id="fc2"><circle cx="850.94" cy="222.34" r="48.0"/></clipPath><radialGradient id="fl3" cx="0.5" cy="0.3" r="0.75"><stop offset="0" stop-color="#5c62ec"/><stop offset="0.55" stop-color="#3a3ada"/><stop offset="1" stop-color="#2626c4"/></radialGradient><clipPath id="fc3"><circle cx="790.66" cy="222.34" r="48.0"/></clipPath><radialGradient id="fl4" cx="0.5" cy="0.3" r="0.75"><stop offset="0" stop-color="#ea62e6"/><stop offset="0.55" stop-color="#de3cdc"/><stop offset="1" stop-color="#cc2cca"/></radialGradient><clipPath id="fc4"><circle cx="771.28" cy="164.26" r="48.0"/></clipPath></defs>
<circle cx="823.20" cy="133.50" r="49.0" fill="#444" opacity="0.34" filter="url(#b3)"/>
<circle cx="872.72" cy="169.26" r="49.0" fill="#444" opacity="0.34" filter="url(#b3)"/>
<circle cx="853.74" cy="226.54" r="49.0" fill="#444" opacity="0.34" filter="url(#b3)"/>
<circle cx="793.46" cy="226.54" r="49.0" fill="#444" opacity="0.34" filter="url(#b3)"/>
<circle cx="774.08" cy="168.46" r="49.0" fill="#444" opacity="0.34" filter="url(#b3)"/>
<circle cx="820.40" cy="129.30" r="48.0" fill="url(#fl0)"/>
<circle cx="869.92" cy="165.06" r="48.0" fill="url(#fl1)"/>
<circle cx="850.94" cy="222.34" r="48.0" fill="url(#fl2)"/>
<circle cx="790.66" cy="222.34" r="48.0" fill="url(#fl3)"/>
<circle cx="771.28" cy="164.26" r="48.0" fill="url(#fl4)"/>
<g clip-path="url(#fc0)"><circle cx="869.92" cy="165.06" r="48.0" fill="#dc8434"/></g>
<g clip-path="url(#fc1)"><circle cx="850.94" cy="222.34" r="48.0" fill="#a6dc2a"/></g>
<g clip-path="url(#fc2)"><circle cx="790.66" cy="222.34" r="48.0" fill="#389cc8"/></g>
<g clip-path="url(#fc3)"><circle cx="771.28" cy="164.26" r="48.0" fill="#a20cf0"/></g>
<g clip-path="url(#fc4)"><circle cx="820.40" cy="129.30" r="48.0" fill="#f0108c"/></g>
<circle cx="820.40" cy="129.30" r="47.4" fill="none" stroke="#e4dede" stroke-width="1.9" opacity="0.85"/>
<circle cx="869.92" cy="165.06" r="47.4" fill="none" stroke="#e4dede" stroke-width="1.9" opacity="0.85"/>
<circle cx="850.94" cy="222.34" r="47.4" fill="none" stroke="#e4dede" stroke-width="1.9" opacity="0.85"/>
<circle cx="790.66" cy="222.34" r="47.4" fill="none" stroke="#e4dede" stroke-width="1.9" opacity="0.85"/>
<circle cx="771.28" cy="164.26" r="47.4" fill="none" stroke="#e4dede" stroke-width="1.9" opacity="0.85"/>
<text x="821.9000000000001" y="115.7" font-size="19.9" text-anchor="middle" fill="#444" font-family="Liberation Sans, sans-serif" font-weight="bold" opacity="0.45" filter="url(#b05)">FRET</text>
<text x="821.2" y="114.8" font-size="19.9" text-anchor="middle" fill="#fff" font-family="Liberation Sans, sans-serif" font-weight="bold"  stroke="#fff" stroke-width="0.33">FRET</text>
<text x="892.1" y="166.3" font-size="19.8" text-anchor="middle" fill="#444" font-family="Liberation Sans, sans-serif" font-weight="bold" opacity="0.45" filter="url(#b05)">ICT</text>
<text x="891.4" y="165.4" font-size="19.8" text-anchor="middle" fill="#fff" font-family="Liberation Sans, sans-serif" font-weight="bold"  stroke="#fff" stroke-width="0.33">ICT</text>
<text x="869.3000000000001" y="240.3" font-size="20.2" text-anchor="middle" fill="#444" font-family="Liberation Sans, sans-serif" font-weight="bold" opacity="0.45" filter="url(#b05)">ESIPT</text>
<text x="868.6" y="239.4" font-size="20.2" text-anchor="middle" fill="#fff" font-family="Liberation Sans, sans-serif" font-weight="bold"  stroke="#fff" stroke-width="0.33">ESIPT</text>
<text x="772.7" y="240.3" font-size="19.6" text-anchor="middle" fill="#444" font-family="Liberation Sans, sans-serif" font-weight="bold" opacity="0.45" filter="url(#b05)">TBET</text>
<text x="772" y="239.4" font-size="19.6" text-anchor="middle" fill="#fff" font-family="Liberation Sans, sans-serif" font-weight="bold"  stroke="#fff" stroke-width="0.33">TBET</text>
<text x="752.2" y="166.3" font-size="19.8" text-anchor="middle" fill="#444" font-family="Liberation Sans, sans-serif" font-weight="bold" opacity="0.45" filter="url(#b05)">PET</text>
<text x="751.5" y="165.4" font-size="19.8" text-anchor="middle" fill="#fff" font-family="Liberation Sans, sans-serif" font-weight="bold"  stroke="#fff" stroke-width="0.33">PET</text><text transform="translate(1.5 322.8) scale(0.955 1)" x="0" y="0" font-size="23.3" fill="#000" stroke="#000" stroke-width="0.3" font-family="Liberation Sans, sans-serif" font-weight="bold">C</text>
<circle cx="40.3" cy="343.3" r="12.6" fill="url(#gPink)"/>
<polygon points="39.60,377.00 37.11,370.04 41.96,364.01" fill="#2bb85e" stroke="#2bb85e" stroke-width="0.35" stroke-linejoin="round"/><polygon points="39.60,377.00 41.96,364.01 44.38,371.36" fill="#168a42" stroke="#168a42" stroke-width="0.35" stroke-linejoin="round"/><polygon points="39.60,377.00 44.38,371.36 52.03,372.55" fill="#2bb85e" stroke="#2bb85e" stroke-width="0.35" stroke-linejoin="round"/><polygon points="39.60,377.00 52.03,372.55 46.87,378.32" fill="#168a42" stroke="#168a42" stroke-width="0.35" stroke-linejoin="round"/><polygon points="39.60,377.00 46.87,378.32 49.67,385.54" fill="#168a42" stroke="#168a42" stroke-width="0.35" stroke-linejoin="round"/><polygon points="39.60,377.00 49.67,385.54 42.09,383.96" fill="#0a5c28" stroke="#0a5c28" stroke-width="0.35" stroke-linejoin="round"/><polygon points="39.60,377.00 42.09,383.96 37.24,389.99" fill="#168a42" stroke="#168a42" stroke-width="0.35" stroke-linejoin="round"/><polygon points="39.60,377.00 37.24,389.99 34.82,382.64" fill="#0a5c28" stroke="#0a5c28" stroke-width="0.35" stroke-linejoin="round"/><polygon points="39.60,377.00 34.82,382.64 27.17,381.45" fill="#168a42" stroke="#168a42" stroke-width="0.35" stroke-linejoin="round"/><polygon points="39.60,377.00 27.17,381.45 32.33,375.68" fill="#0a5c28" stroke="#0a5c28" stroke-width="0.35" stroke-linejoin="round"/><polygon points="39.60,377.00 32.33,375.68 29.53,368.46" fill="#2bb85e" stroke="#2bb85e" stroke-width="0.35" stroke-linejoin="round"/><polygon points="39.60,377.00 29.53,368.46 37.11,370.04" fill="#168a42" stroke="#168a42" stroke-width="0.35" stroke-linejoin="round"/>
<text x="55.4" y="347.3" font-size="10.5" text-anchor="start" fill="#111" font-family="Liberation Sans, sans-serif" font-weight="bold"  stroke="#111" stroke-width="0.18">: Internal Standard</text>
<text x="55.4" y="378" font-size="10.4" text-anchor="start" fill="#111" font-family="Liberation Sans, sans-serif" font-weight="bold"  stroke="#111" stroke-width="0.18">: Target analyte</text>
<text x="268.8" y="337.6" font-size="18.2" text-anchor="middle" fill="#111" font-family="Liberation Sans, sans-serif" font-weight="bold" stroke="#111" stroke-width="0.33" xml:space="preserve">Ratiometric  SERS</text>
<text x="268.9" y="360.7" font-size="18.3" text-anchor="middle" fill="#111" font-family="Liberation Sans, sans-serif" font-weight="bold"  stroke="#111" stroke-width="0.33">detection</text>
<defs>
<radialGradient id="sphG" cx="0.36" cy="0.82" r="0.95" fx="0.34" fy="0.86"><stop offset="0" stop-color="#9c9c9c"/><stop offset="0.28" stop-color="#7e7e7e"/><stop offset="0.58" stop-color="#525252"/><stop offset="0.85" stop-color="#3a3a3a"/><stop offset="1" stop-color="#2c2c2c"/></radialGradient>
<radialGradient id="goldG" gradientUnits="userSpaceOnUse" cx="133" cy="476" r="62"><stop offset="0" stop-color="#ffe650"/><stop offset="0.3" stop-color="#fbc514"/><stop offset="0.7" stop-color="#eba900"/><stop offset="1" stop-color="#b87c00"/></radialGradient>
<clipPath id="sphClip"><circle cx="145.1" cy="499.8" r="67.2"/></clipPath>
</defs>
<circle cx="145.1" cy="499.8" r="67.2" fill="url(#sphG)"/>
<g clip-path="url(#sphClip)"><ellipse cx="145.1" cy="575.0" rx="60.480000000000004" ry="22" fill="#2c2c2c" opacity="0.55" filter="url(#b3)"/></g>
<g clip-path="url(#sphClip)">
<path d="M149.4 433 C175 436 205 462 205.5 497 C205.6 510 204 518 201.5 524 L199.9 525.7 C170 533 120 534 89.8 518 C90 480 105 445 149.4 433 Z" fill="#454545"/>
<path d="M149.4 433 C112 440 90 478 89.8 518 L101.5 513.3 C102 482 121 452 150.7 444.6 Z" fill="#717171"/>
<path d="M89.8 518 C120 534 170 533 199.9 525.7 L201.4 523 L190.9 519.6 C165 524.6 128 523.4 101.5 513.3 Z" fill="#585858"/>
<path d="M150.7 444.6 C121 452 102 482 101.5 513.3 C128 523.4 165 524.6 193.6 520 C196.6 491 187 458 152.5 443.6 Z" fill="#b23030"/>
<path d="M150.7 444.6 C121 452 102 482 101.5 513.3 L107.9 511.2 C108.5 486 126 459 151.2 451.6 Z" fill="#e05a5a"/>
<path d="M101.5 513.3 C128 523.4 165 524.6 190.9 519.6 L183 516.6 C160 521 128 519.8 107.9 511.2 Z" fill="#e85050"/>
<path d="M149.6 454.8 C131 461 113 489 109.6 510.7 C128 518.6 160 520.6 182.2 516.8 C184 496 176 466 149.6 454.8 Z" fill="url(#goldG)"/>
</g>
<circle cx="152.8" cy="448" r="4.0" fill="url(#gPink)"/>
<circle cx="161.6" cy="452.4" r="4.0" fill="url(#gPink)"/>
<circle cx="169.4" cy="458.4" r="4.0" fill="url(#gPink)"/>
<circle cx="175.8" cy="465.3" r="4.0" fill="url(#gPink)"/>
<circle cx="181" cy="473.9" r="4.0" fill="url(#gPink)"/>
<circle cx="184.9" cy="483.5" r="4.0" fill="url(#gPink)"/>
<circle cx="187" cy="495.1" r="4.0" fill="url(#gPink)"/>
<circle cx="187.5" cy="506.3" r="4.0" fill="url(#gPink)"/>
<circle cx="187" cy="517" r="4.0" fill="url(#gPink)"/>
<g transform="translate(7.35 407.7) rotate(31.0)"><rect x="32.5" y="-3.2" width="76.5" height="10.8" fill="#777" opacity="0.35" filter="url(#b1)"/><rect x="31.5" y="-5.4" width="77.5" height="10.8" fill="#f26a6a" opacity="0.78"/><path d="M33.00 0 C33.87 -6.21 35.74 -6.21 36.61 0 C37.48 6.21 39.36 6.21 40.22 0 C41.09 -6.21 42.97 -6.21 43.83 0 C44.70 6.21 46.58 6.21 47.44 0 C48.31 -6.21 50.19 -6.21 51.06 0 C51.92 6.21 53.80 6.21 54.67 0 C55.53 -6.21 57.41 -6.21 58.28 0 C59.14 6.21 61.02 6.21 61.89 0 C62.76 -6.21 64.63 -6.21 65.50 0 C66.37 6.21 68.24 6.21 69.11 0 C69.98 -6.21 71.86 -6.21 72.72 0 C73.59 6.21 75.47 6.21 76.33 0 C77.20 -6.21 79.08 -6.21 79.94 0 C80.81 6.21 82.69 6.21 83.56 0 C84.42 -6.21 86.30 -6.21 87.17 0 C88.03 6.21 89.91 6.21 90.78 0 C91.64 -6.21 93.52 -6.21 94.39 0 C95.26 6.21 97.13 6.21 98.00 0 C99.50 -4.97 101.00 -2.98 102.50 0 L105.00 0" fill="none" stroke="#e00c0c" stroke-width="2.1" stroke-linejoin="round"/><path d="M108.5 0 L102.5 -3 L104 0 L102.5 3 Z" fill="#e00c0c"/></g>
<g transform="translate(7.35 407.7) rotate(31.5)"><path d="M0 -10.9 H10.4 V-9.4 H23.6 L32 -5.2 V5.4 L23.6 9.4 H10.4 V10.9 H0 Z" fill="#000"/><text x="15.6" y="4.4" font-size="10.8" text-anchor="middle" fill="#fff" font-family="Liberation Sans, sans-serif" font-weight="bold">Laser</text></g>
<g transform="translate(282.4 397.8) rotate(142.0)"><rect x="32.5" y="-3.0999999999999996" width="75.0" height="10.6" fill="#777" opacity="0.35" filter="url(#b1)"/><rect x="31.5" y="-5.3" width="76.0" height="10.6" fill="#5cec5c" opacity="1.0"/><g transform="translate(139.0 0) scale(-1 1)"><path d="M33.00 0 C33.85 -6.10 35.68 -6.10 36.53 0 C37.37 6.10 39.21 6.10 40.06 0 C40.90 -6.10 42.74 -6.10 43.58 0 C44.43 6.10 46.26 6.10 47.11 0 C47.96 -6.10 49.79 -6.10 50.64 0 C51.49 6.10 53.32 6.10 54.17 0 C55.01 -6.10 56.85 -6.10 57.69 0 C58.54 6.10 60.38 6.10 61.22 0 C62.07 -6.10 63.90 -6.10 64.75 0 C65.60 6.10 67.43 6.10 68.28 0 C69.12 -6.10 70.96 -6.10 71.81 0 C72.65 6.10 74.49 6.10 75.33 0 C76.18 -6.10 78.01 -6.10 78.86 0 C79.71 6.10 81.54 6.10 82.39 0 C83.24 -6.10 85.07 -6.10 85.92 0 C86.76 6.10 88.60 6.10 89.44 0 C90.29 -6.10 92.13 -6.10 92.97 0 C93.82 6.10 95.65 6.10 96.50 0 C98.00 -4.88 99.50 -2.93 101.00 0 L103.50 0" fill="none" stroke="#12cc12" stroke-width="2.1" stroke-linejoin="round"/><path d="M107.0 0 L101.0 -3 L102.5 0 L101.0 3 Z" fill="#12cc12"/></g></g>
<g transform="translate(282.4 397.8) rotate(142.0)"><path d="M0 -10.9 H10.4 V-9.4 H23.6 L32 -5.2 V5.4 L23.6 9.4 H10.4 V10.9 H0 Z" fill="#000"/><text x="15.6" y="4.4" font-size="10.8" text-anchor="middle" fill="#fff" font-family="Liberation Sans, sans-serif" font-weight="bold"></text></g>
<text transform="translate(270.0 407.3) rotate(-38)" x="0" y="3.9" font-size="10.8" text-anchor="middle" fill="#fff" font-family="Liberation Sans, sans-serif" font-weight="bold">RERS</text>
<polygon points="161.60,430.40 161.08,428.11 162.84,426.39" fill="#2bb85e" stroke="#2bb85e" stroke-width="0.35" stroke-linejoin="round"/><polygon points="161.60,430.40 162.84,426.39 163.33,428.80" fill="#168a42" stroke="#168a42" stroke-width="0.35" stroke-linejoin="round"/><polygon points="161.60,430.40 163.33,428.80 165.70,429.47" fill="#2bb85e" stroke="#2bb85e" stroke-width="0.35" stroke-linejoin="round"/><polygon points="161.60,430.40 165.70,429.47 163.85,431.10" fill="#168a42" stroke="#168a42" stroke-width="0.35" stroke-linejoin="round"/><polygon points="161.60,430.40 163.85,431.10 164.45,433.48" fill="#168a42" stroke="#168a42" stroke-width="0.35" stroke-linejoin="round"/><polygon points="161.60,430.40 164.45,433.48 162.12,432.69" fill="#0a5c28" stroke="#0a5c28" stroke-width="0.35" stroke-linejoin="round"/><polygon points="161.60,430.40 162.12,432.69 160.36,434.41" fill="#168a42" stroke="#168a42" stroke-width="0.35" stroke-linejoin="round"/><polygon points="161.60,430.40 160.36,434.41 159.87,432.00" fill="#0a5c28" stroke="#0a5c28" stroke-width="0.35" stroke-linejoin="round"/><polygon points="161.60,430.40 159.87,432.00 157.50,431.33" fill="#168a42" stroke="#168a42" stroke-width="0.35" stroke-linejoin="round"/><polygon points="161.60,430.40 157.50,431.33 159.35,429.70" fill="#0a5c28" stroke="#0a5c28" stroke-width="0.35" stroke-linejoin="round"/><polygon points="161.60,430.40 159.35,429.70 158.75,427.32" fill="#2bb85e" stroke="#2bb85e" stroke-width="0.35" stroke-linejoin="round"/><polygon points="161.60,430.40 158.75,427.32 161.08,428.11" fill="#168a42" stroke="#168a42" stroke-width="0.35" stroke-linejoin="round"/>
<polygon points="185.70,442.00 185.18,439.71 186.94,437.99" fill="#2bb85e" stroke="#2bb85e" stroke-width="0.35" stroke-linejoin="round"/><polygon points="185.70,442.00 186.94,437.99 187.43,440.40" fill="#168a42" stroke="#168a42" stroke-width="0.35" stroke-linejoin="round"/><polygon points="185.70,442.00 187.43,440.40 189.80,441.07" fill="#2bb85e" stroke="#2bb85e" stroke-width="0.35" stroke-linejoin="round"/><polygon points="185.70,442.00 189.80,441.07 187.95,442.70" fill="#168a42" stroke="#168a42" stroke-width="0.35" stroke-linejoin="round"/><polygon points="185.70,442.00 187.95,442.70 188.55,445.08" fill="#168a42" stroke="#168a42" stroke-width="0.35" stroke-linejoin="round"/><polygon points="185.70,442.00 188.55,445.08 186.22,444.29" fill="#0a5c28" stroke="#0a5c28" stroke-width="0.35" stroke-linejoin="round"/><polygon points="185.70,442.00 186.22,444.29 184.46,446.01" fill="#168a42" stroke="#168a42" stroke-width="0.35" stroke-linejoin="round"/><polygon points="185.70,442.00 184.46,446.01 183.97,443.60" fill="#0a5c28" stroke="#0a5c28" stroke-width="0.35" stroke-linejoin="round"/><polygon points="185.70,442.00 183.97,443.60 181.60,442.93" fill="#168a42" stroke="#168a42" stroke-width="0.35" stroke-linejoin="round"/><polygon points="185.70,442.00 181.60,442.93 183.45,441.30" fill="#0a5c28" stroke="#0a5c28" stroke-width="0.35" stroke-linejoin="round"/><polygon points="185.70,442.00 183.45,441.30 182.85,438.92" fill="#2bb85e" stroke="#2bb85e" stroke-width="0.35" stroke-linejoin="round"/><polygon points="185.70,442.00 182.85,438.92 185.18,439.71" fill="#168a42" stroke="#168a42" stroke-width="0.35" stroke-linejoin="round"/>
<polygon points="198.60,453.70 198.08,451.41 199.84,449.69" fill="#2bb85e" stroke="#2bb85e" stroke-width="0.35" stroke-linejoin="round"/><polygon points="198.60,453.70 199.84,449.69 200.33,452.10" fill="#168a42" stroke="#168a42" stroke-width="0.35" stroke-linejoin="round"/><polygon points="198.60,453.70 200.33,452.10 202.70,452.77" fill="#2bb85e" stroke="#2bb85e" stroke-width="0.35" stroke-linejoin="round"/><polygon points="198.60,453.70 202.70,452.77 200.85,454.40" fill="#168a42" stroke="#168a42" stroke-width="0.35" stroke-linejoin="round"/><polygon points="198.60,453.70 200.85,454.40 201.45,456.78" fill="#168a42" stroke="#168a42" stroke-width="0.35" stroke-linejoin="round"/><polygon points="198.60,453.70 201.45,456.78 199.12,455.99" fill="#0a5c28" stroke="#0a5c28" stroke-width="0.35" stroke-linejoin="round"/><polygon points="198.60,453.70 199.12,455.99 197.36,457.71" fill="#168a42" stroke="#168a42" stroke-width="0.35" stroke-linejoin="round"/><polygon points="198.60,453.70 197.36,457.71 196.87,455.30" fill="#0a5c28" stroke="#0a5c28" stroke-width="0.35" stroke-linejoin="round"/><polygon points="198.60,453.70 196.87,455.30 194.50,454.63" fill="#168a42" stroke="#168a42" stroke-width="0.35" stroke-linejoin="round"/><polygon points="198.60,453.70 194.50,454.63 196.35,453.00" fill="#0a5c28" stroke="#0a5c28" stroke-width="0.35" stroke-linejoin="round"/><polygon points="198.60,453.70 196.35,453.00 195.75,450.62" fill="#2bb85e" stroke="#2bb85e" stroke-width="0.35" stroke-linejoin="round"/><polygon points="198.60,453.70 195.75,450.62 198.08,451.41" fill="#168a42" stroke="#168a42" stroke-width="0.35" stroke-linejoin="round"/>
<polygon points="211.60,479.10 211.08,476.81 212.84,475.09" fill="#2bb85e" stroke="#2bb85e" stroke-width="0.35" stroke-linejoin="round"/><polygon points="211.60,479.10 212.84,475.09 213.33,477.50" fill="#168a42" stroke="#168a42" stroke-width="0.35" stroke-linejoin="round"/><polygon points="211.60,479.10 213.33,477.50 215.70,478.17" fill="#2bb85e" stroke="#2bb85e" stroke-width="0.35" stroke-linejoin="round"/><polygon points="211.60,479.10 215.70,478.17 213.85,479.80" fill="#168a42" stroke="#168a42" stroke-width="0.35" stroke-linejoin="round"/><polygon points="211.60,479.10 213.85,479.80 214.45,482.18" fill="#168a42" stroke="#168a42" stroke-width="0.35" stroke-linejoin="round"/><polygon points="211.60,479.10 214.45,482.18 212.12,481.39" fill="#0a5c28" stroke="#0a5c28" stroke-width="0.35" stroke-linejoin="round"/><polygon points="211.60,479.10 212.12,481.39 210.36,483.11" fill="#168a42" stroke="#168a42" stroke-width="0.35" stroke-linejoin="round"/><polygon points="211.60,479.10 210.36,483.11 209.87,480.70" fill="#0a5c28" stroke="#0a5c28" stroke-width="0.35" stroke-linejoin="round"/><polygon points="211.60,479.10 209.87,480.70 207.50,480.03" fill="#168a42" stroke="#168a42" stroke-width="0.35" stroke-linejoin="round"/><polygon points="211.60,479.10 207.50,480.03 209.35,478.40" fill="#0a5c28" stroke="#0a5c28" stroke-width="0.35" stroke-linejoin="round"/><polygon points="211.60,479.10 209.35,478.40 208.75,476.02" fill="#2bb85e" stroke="#2bb85e" stroke-width="0.35" stroke-linejoin="round"/><polygon points="211.60,479.10 208.75,476.02 211.08,476.81" fill="#168a42" stroke="#168a42" stroke-width="0.35" stroke-linejoin="round"/>
<polygon points="209.00,492.60 208.48,490.31 210.24,488.59" fill="#2bb85e" stroke="#2bb85e" stroke-width="0.35" stroke-linejoin="round"/><polygon points="209.00,492.60 210.24,488.59 210.73,491.00" fill="#168a42" stroke="#168a42" stroke-width="0.35" stroke-linejoin="round"/><polygon points="209.00,492.60 210.73,491.00 213.10,491.67" fill="#2bb85e" stroke="#2bb85e" stroke-width="0.35" stroke-linejoin="round"/><polygon points="209.00,492.60 213.10,491.67 211.25,493.30" fill="#168a42" stroke="#168a42" stroke-width="0.35" stroke-linejoin="round"/><polygon points="209.00,492.60 211.25,493.30 211.85,495.68" fill="#168a42" stroke="#168a42" stroke-width="0.35" stroke-linejoin="round"/><polygon points="209.00,492.60 211.85,495.68 209.52,494.89" fill="#0a5c28" stroke="#0a5c28" stroke-width="0.35" stroke-linejoin="round"/><polygon points="209.00,492.60 209.52,494.89 207.76,496.61" fill="#168a42" stroke="#168a42" stroke-width="0.35" stroke-linejoin="round"/><polygon points="209.00,492.60 207.76,496.61 207.27,494.20" fill="#0a5c28" stroke="#0a5c28" stroke-width="0.35" stroke-linejoin="round"/><polygon points="209.00,492.60 207.27,494.20 204.90,493.53" fill="#168a42" stroke="#168a42" stroke-width="0.35" stroke-linejoin="round"/><polygon points="209.00,492.60 204.90,493.53 206.75,491.90" fill="#0a5c28" stroke="#0a5c28" stroke-width="0.35" stroke-linejoin="round"/><polygon points="209.00,492.60 206.75,491.90 206.15,489.52" fill="#2bb85e" stroke="#2bb85e" stroke-width="0.35" stroke-linejoin="round"/><polygon points="209.00,492.60 206.15,489.52 208.48,490.31" fill="#168a42" stroke="#168a42" stroke-width="0.35" stroke-linejoin="round"/>
<defs><linearGradient id="redArr" x1="0" y1="0" x2="1" y2="0.25"><stop offset="0" stop-color="#ec7474"/><stop offset="0.5" stop-color="#e35c5c"/><stop offset="1" stop-color="#dc5050"/></linearGradient></defs>
<path d="M221 513.4 H298.6 V498.6 L336 524 L298.6 551 V536.4 H221 Z" fill="#777" opacity="0.5" filter="url(#b2)"/>
<path d="M220.3 511.7 H298 V496.9 L334.9 522.7 L298 549.5 V534.6 H220.3 Z" fill="url(#redArr)" stroke="#d24a4a" stroke-width="0.6"/>
<text x="147.4" y="590" font-size="13.9" text-anchor="middle" fill="#111" font-family="Liberation Sans, sans-serif" font-weight="bold"  stroke="#111" stroke-width="0.18">Nanomaterials structures</text>
<rect x="444.8" y="402.6" width="12.2" height="152.6" fill="#a6dcc2"/>
<rect x="520.4" y="486.9" width="12" height="68.4" fill="#f5aeb4"/>
<path d="M494.3 507.3 L504.3 504.9 L512.3 508.5 L509.8 515.3 L500.2 517.8 L492.2 514 Z M540.9 501.4 L543.1 492.6 L553 490.1 L560.8 495.7 L558.9 504.5 L549 507 Z M512.3 508.5 L522 506.2 L530.8 503.8 L540.9 501.4" fill="none" stroke="#555" stroke-width="1.3"/><circle cx="494.3" cy="507.3" r="3.15" fill="url(#gAtom)"/><circle cx="504.3" cy="504.9" r="3.15" fill="url(#gAtom)"/><circle cx="512.3" cy="508.5" r="3.15" fill="url(#gAtom)"/><circle cx="509.8" cy="515.3" r="3.15" fill="url(#gAtom)"/><circle cx="500.2" cy="517.8" r="3.15" fill="url(#gAtom)"/><circle cx="492.2" cy="514" r="3.15" fill="url(#gAtom)"/><circle cx="522" cy="506.2" r="3.15" fill="url(#gAtom)"/><circle cx="530.8" cy="503.8" r="3.15" fill="url(#gAtom)"/><circle cx="540.9" cy="501.4" r="3.15" fill="url(#gAtom)"/><circle cx="543.1" cy="492.6" r="3.15" fill="url(#gAtom)"/><circle cx="553" cy="490.1" r="3.15" fill="url(#gAtom)"/><circle cx="560.8" cy="495.7" r="3.15" fill="url(#gAtom)"/><circle cx="558.9" cy="504.5" r="3.15" fill="url(#gAtom)"/><circle cx="549" cy="507" r="3.15" fill="url(#gAtom)"/>
<path d="M347.12 522.39 L347.59 522.47 L348.07 522.56 L348.55 522.64 L349.03 522.72 L349.51 522.79 L349.99 522.83 L350.46 522.85 L350.94 522.84 L351.42 522.78 L351.90 522.64 L352.38 522.34 L352.86 521.73 L353.34 520.63 L353.81 519.10 L354.29 517.72 L354.77 516.63 L355.25 512.86 L355.73 502.74 L356.21 491.10 L356.68 496.25 L357.16 509.36 L357.64 516.93 L358.12 519.69 L358.60 520.64 L359.08 521.08 L359.55 521.33 L360.03 521.50 L360.51 521.62 L360.99 521.72 L361.47 521.81 L361.95 521.90 L362.42 521.98 L362.90 522.06 L363.38 522.15 L363.86 522.22 L364.34 522.30 L364.82 522.36 L365.30 522.41 L365.77 522.45 L366.25 522.47 L366.73 522.46 L367.21 522.44 L367.69 522.39 L368.17 522.31 L368.64 522.21 L369.12 522.06 L369.60 521.87 L370.08 521.63 L370.56 521.29 L371.04 520.78 L371.51 519.84 L371.99 517.81 L372.47 513.65 L372.95 506.94 L373.43 500.18 L373.91 500.16 L374.38 506.86 L374.86 513.54 L375.34 517.66 L375.82 519.66 L376.30 520.59 L376.78 521.11 L377.26 521.46 L377.73 521.74 L378.21 521.98 L378.69 522.18 L379.17 522.36 L379.65 522.52 L380.13 522.66 L380.60 522.78 L381.08 522.88 L381.56 522.95 L382.04 523.00 L382.52 523.03 L383.00 523.03 L383.47 523.01 L383.95 522.96 L384.43 522.89 L384.91 522.80 L385.39 522.69 L385.87 522.56 L386.34 522.41 L386.82 522.24 L387.30 522.06 L387.78 521.86 L388.26 521.65 L388.74 521.43 L389.22 521.20 L389.69 520.97 L390.17 520.74 L390.65 520.53 L391.13 520.35 L391.61 520.21 L392.09 520.13 L392.56 520.14 L393.04 520.23 L393.52 520.39 L394.00 520.60 L394.48 520.85 L394.96 521.10 L395.43 521.34 L395.91 521.55 L396.39 521.74 L396.87 521.88 L397.35 521.98 L397.83 522.05 L398.30 522.07 L398.78 522.06 L399.26 522.01 L399.74 521.93 L400.22 521.82 L400.70 521.68 L401.18 521.50 L401.65 521.29 L402.13 521.03 L402.61 520.67 L403.09 520.10 L403.57 518.93 L404.05 516.06 L404.52 510.05 L405.00 501.74 L405.48 498.94 L405.96 505.91 L406.44 513.52 L406.92 517.81 L407.39 519.62 L407.87 520.34 L408.35 520.66 L408.83 520.74 L409.31 520.40 L409.79 518.92 L410.26 515.32 L410.74 511.29 L411.22 513.07 L411.70 517.57 L412.18 520.12 L412.66 520.95 L413.14 521.05 L413.61 520.84 L414.09 520.32 L414.57 519.24 L415.05 516.61 L415.53 510.10 L416.01 497.40 L416.48 482.61 L416.96 482.52 L417.44 497.14 L417.92 509.68 L418.40 516.05 L418.88 518.57 L419.35 519.58 L419.83 520.08 L420.31 520.36 L420.79 520.49 L421.27 520.49 L421.75 520.36 L422.22 520.10 L422.70 519.72 L423.18 519.34 L423.66 519.15 L424.14 519.28 L424.62 519.58 L425.10 519.85 L425.57 519.95 L426.05 519.84 L426.53 519.49 L427.01 518.83 L427.49 517.71 L427.97 515.55 L428.44 510.82 L428.92 500.67 L429.40 482.94 L429.88 461.87 L430.36 455.11 L430.84 470.95 L431.31 490.68 L431.79 503.47 L432.27 509.14 L432.75 510.37 L433.23 508.53 L433.71 502.45 L434.18 488.69 L434.66 464.26 L435.14 433.22 L435.62 416.41 L436.10 433.62 L436.58 465.09 L437.06 490.03 L437.53 504.44 L438.01 511.41 L438.49 514.71 L438.97 516.50 L439.45 517.62 L439.93 518.36 L440.40 518.81 L440.88 519.02 L441.36 519.04 L441.84 518.93 L442.32 518.79 L442.80 518.76 L443.27 518.93 L443.75 519.22 L444.23 519.49 L444.71 519.66 L445.19 519.67 L445.67 519.52 L446.14 519.18 L446.62 518.65 L447.10 517.86 L447.58 516.70 L448.06 514.87 L448.54 511.44 L449.02 504.12 L449.49 488.89 L449.97 462.43 L450.45 429.03 L450.93 410.87 L451.41 429.07 L451.89 462.51 L452.36 489.00 L452.84 504.24 L453.32 511.55 L453.80 514.94 L454.28 516.70 L454.76 517.72 L455.23 518.30 L455.71 518.46 L456.19 518.03 L456.67 516.51 L457.15 513.11 L457.63 507.34 L458.10 500.36 L458.58 496.73 L459.06 500.47 L459.54 507.57 L460.02 513.48 L460.50 517.07 L460.98 518.85 L461.45 519.62 L461.93 519.92 L462.41 519.99 L462.89 519.86 L463.37 519.41 L463.85 518.24 L464.32 515.71 L464.80 511.54 L465.28 507.35 L465.76 507.42 L466.24 511.77 L466.72 516.09 L467.19 518.79 L467.67 520.15 L468.15 520.82 L468.63 521.21 L469.11 521.51 L469.59 521.74 L470.06 521.94 L470.54 522.11 L471.02 522.25 L471.50 522.37 L471.98 522.47 L472.46 522.54 L472.94 522.59 L473.41 522.62 L473.89 522.63 L474.37 522.63 L474.85 522.61 L475.33 522.57 L475.81 522.53 L476.28 522.48 L476.76 522.43 L477.24 522.38 L477.72 522.33 L478.20 522.30 L478.68 522.27 L479.15 522.25 L479.63 522.25 L480.11 522.26 L480.59 522.29 L481.07 522.33 L481.55 522.39 L482.02 522.45 L482.50 522.53 L482.98 522.61 L483.46 522.69 L483.94 522.76 L484.42 522.82 L484.90 522.86 L485.37 522.86 L485.85 522.81 L486.33 522.70 L486.81 522.53 L487.29 522.31 L487.77 522.10 L488.24 521.99 L488.72 522.02 L489.20 522.14 L489.68 522.28 L490.16 522.39 L490.64 522.44 L491.11 522.43 L491.59 522.39 L492.07 522.32 L492.55 522.24 L493.03 522.16 L493.51 522.09 L493.98 522.02 L494.46 521.97 L494.94 521.94 L495.42 521.93 L495.90 521.93 L496.38 521.96 L496.86 522.00 L497.33 522.05 L497.81 522.12 L498.29 522.20 L498.77 522.28 L499.25 522.37 L499.73 522.46 L500.20 522.54 L500.68 522.62 L501.16 522.69 L501.64 522.74 L502.12 522.78 L502.60 522.81 L503.07 522.82 L503.55 522.81 L504.03 522.79 L504.51 522.76 L504.99 522.71 L505.47 522.66 L505.94 522.60 L506.42 522.54 L506.90 522.47 L507.38 522.42 L507.86 522.37 L508.34 522.32 L508.82 522.30 L509.29 522.28 L509.77 522.28 L510.25 522.30 L510.73 522.34 L511.21 522.39 L511.69 522.46 L512.16 522.54 L512.64 522.62 L513.12 522.72 L513.60 522.82 L514.08 522.92 L514.56 523.01 L515.03 523.10 L515.51 523.18 L515.99 523.24 L516.47 523.29 L516.95 523.31 L517.43 523.32 L517.90 523.30 L518.38 523.26 L518.86 523.20 L519.34 523.12 L519.82 523.02 L520.30 522.90 L520.78 522.77 L521.25 522.61 L521.73 522.44 L522.21 522.25 L522.69 522.01 L523.17 521.69 L523.65 521.15 L524.12 520.16 L524.60 518.45 L525.08 516.05 L525.56 513.90 L526.04 513.90 L526.52 516.04 L526.99 518.43 L527.47 520.13 L527.95 521.10 L528.43 521.61 L528.91 521.91 L529.39 522.11 L529.86 522.26 L530.34 522.39 L530.82 522.49 L531.30 522.58 L531.78 522.64 L532.26 522.69 L532.74 522.71 L533.21 522.72 L533.69 522.71 L534.17 522.68 L534.65 522.64 L535.13 522.59 L535.61 522.53 L536.08 522.47 L536.56 522.40 L537.04 522.34 L537.52 522.28 L538.00 522.23 L538.48 522.19 L538.95 522.16 L539.43 522.15 L539.91 522.16 L540.39 522.19 L540.87 522.23 L541.35 522.29 L541.82 522.37 L542.30 522.46 L542.78 522.56 L543.26 522.67 " fill="none" stroke="#c96210" stroke-width="1.35" stroke-linejoin="round"/>
<path d="M347.12 528.16 L347.59 528.11 L348.07 528.08 L348.55 528.06 L349.03 528.06 L349.51 528.06 L349.99 528.08 L350.46 528.10 L350.94 528.12 L351.42 528.11 L351.90 528.06 L352.38 527.88 L352.86 527.42 L353.34 526.51 L353.81 525.19 L354.29 524.08 L354.77 523.43 L355.25 520.63 L355.73 512.50 L356.21 503.04 L356.68 507.44 L357.16 518.41 L357.64 524.75 L358.12 527.07 L358.60 527.86 L359.08 528.20 L359.55 528.36 L360.03 528.43 L360.51 528.44 L360.99 528.42 L361.47 528.38 L361.95 528.33 L362.42 528.28 L362.90 528.24 L363.38 528.20 L363.86 528.17 L364.34 528.16 L364.82 528.16 L365.30 528.17 L365.77 528.19 L366.25 528.21 L366.73 528.25 L367.21 528.28 L367.69 528.31 L368.17 528.33 L368.64 528.34 L369.12 528.32 L369.60 528.26 L370.08 528.15 L370.56 527.96 L371.04 527.61 L371.51 526.88 L371.99 525.24 L372.47 521.80 L372.95 516.22 L373.43 510.58 L373.91 510.51 L374.38 515.99 L374.86 521.44 L375.34 524.74 L375.82 526.28 L376.30 526.92 L376.78 527.21 L377.26 527.37 L377.73 527.48 L378.21 527.56 L378.69 527.64 L379.17 527.71 L379.65 527.79 L380.13 527.88 L380.60 527.97 L381.08 528.08 L381.56 528.19 L382.04 528.31 L382.52 528.43 L383.00 528.54 L383.47 528.65 L383.95 528.75 L384.43 528.83 L384.91 528.89 L385.39 528.93 L385.87 528.94 L386.34 528.92 L386.82 528.87 L387.30 528.77 L387.78 528.64 L388.26 528.47 L388.74 528.25 L389.22 528.01 L389.69 527.74 L390.17 527.45 L390.65 527.15 L391.13 526.87 L391.61 526.62 L392.09 526.43 L392.56 526.32 L393.04 526.30 L393.52 526.36 L394.00 526.48 L394.48 526.66 L394.96 526.86 L395.43 527.08 L395.91 527.29 L396.39 527.50 L396.87 527.69 L397.35 527.87 L397.83 528.02 L398.30 528.14 L398.78 528.24 L399.26 528.31 L399.74 528.35 L400.22 528.36 L400.70 528.32 L401.18 528.24 L401.65 528.11 L402.13 527.89 L402.61 527.56 L403.09 526.99 L403.57 525.79 L404.05 522.87 L404.52 516.78 L405.00 508.36 L405.48 505.44 L405.96 512.28 L406.44 519.74 L406.92 523.88 L407.39 525.54 L407.87 526.13 L408.35 526.34 L408.83 526.33 L409.31 526.00 L409.79 524.73 L410.26 521.71 L410.74 518.37 L411.22 519.86 L411.70 523.65 L412.18 525.83 L412.66 526.60 L413.14 526.79 L413.61 526.72 L414.09 526.40 L414.57 525.59 L415.05 523.42 L415.53 517.85 L416.01 506.85 L416.48 494.00 L416.96 494.01 L417.44 506.89 L417.92 517.92 L418.40 523.53 L418.88 525.73 L419.35 526.59 L419.83 526.97 L420.31 527.15 L420.79 527.17 L421.27 527.07 L421.75 526.83 L422.22 526.45 L422.70 525.97 L423.18 525.50 L423.66 525.24 L424.14 525.31 L424.62 525.59 L425.10 525.86 L425.57 526.01 L426.05 525.98 L426.53 525.75 L427.01 525.28 L427.49 524.44 L427.97 522.76 L428.44 518.94 L428.92 510.64 L429.40 496.04 L429.88 478.67 L430.36 473.16 L430.84 486.41 L431.31 502.87 L431.79 513.54 L432.27 518.29 L432.75 519.32 L433.23 517.78 L433.71 512.69 L434.18 501.21 L434.66 480.84 L435.14 454.97 L435.62 440.89 L436.10 455.03 L436.58 481.01 L437.06 501.56 L437.53 513.36 L438.01 519.01 L438.49 521.62 L438.97 522.99 L439.45 523.82 L439.93 524.34 L440.40 524.64 L440.88 524.76 L441.36 524.73 L441.84 524.61 L442.32 524.49 L442.80 524.53 L443.27 524.79 L443.75 525.19 L444.23 525.60 L444.71 525.92 L445.19 526.10 L445.67 526.12 L446.14 525.97 L446.62 525.62 L447.10 525.05 L447.58 524.15 L448.06 522.66 L448.54 519.82 L449.02 513.73 L449.49 501.05 L449.97 479.03 L450.45 451.22 L450.93 436.06 L451.41 451.06 L451.89 478.71 L452.36 500.58 L452.84 513.11 L453.32 519.07 L453.80 521.78 L454.28 523.15 L454.76 523.91 L455.23 524.29 L455.71 524.30 L456.19 523.71 L456.67 521.96 L457.15 518.16 L457.63 511.75 L458.10 504.01 L458.58 500.05 L459.06 504.35 L459.54 512.43 L460.02 519.18 L460.50 523.35 L460.98 525.47 L461.45 526.46 L461.93 526.91 L462.41 527.10 L462.89 527.06 L463.37 526.72 L463.85 525.75 L464.32 523.61 L464.80 520.09 L465.28 516.52 L465.76 516.47 L466.24 519.95 L466.72 523.40 L467.19 525.50 L467.67 526.49 L468.15 526.91 L468.63 527.12 L469.11 527.26 L469.59 527.37 L470.06 527.47 L470.54 527.57 L471.02 527.67 L471.50 527.78 L471.98 527.89 L472.46 528.01 L472.94 528.13 L473.41 528.25 L473.89 528.36 L474.37 528.47 L474.85 528.56 L475.33 528.65 L475.81 528.71 L476.28 528.77 L476.76 528.80 L477.24 528.82 L477.72 528.82 L478.20 528.81 L478.68 528.78 L479.15 528.74 L479.63 528.69 L480.11 528.63 L480.59 528.57 L481.07 528.51 L481.55 528.46 L482.02 528.41 L482.50 528.37 L482.98 528.34 L483.46 528.32 L483.94 528.31 L484.42 528.30 L484.90 528.30 L485.37 528.28 L485.85 528.24 L486.33 528.17 L486.81 528.05 L487.29 527.93 L487.77 527.83 L488.24 527.85 L488.72 528.02 L489.20 528.29 L489.68 528.59 L490.16 528.84 L490.64 529.04 L491.11 529.17 L491.59 529.24 L492.07 529.27 L492.55 529.26 L493.03 529.22 L493.51 529.16 L493.98 529.08 L494.46 528.98 L494.94 528.88 L495.42 528.77 L495.90 528.66 L496.38 528.55 L496.86 528.45 L497.33 528.35 L497.81 528.27 L498.29 528.21 L498.77 528.16 L499.25 528.13 L499.73 528.12 L500.20 528.12 L500.68 528.15 L501.16 528.19 L501.64 528.24 L502.12 528.31 L502.60 528.39 L503.07 528.47 L503.55 528.55 L504.03 528.63 L504.51 528.70 L504.99 528.77 L505.47 528.82 L505.94 528.86 L506.42 528.89 L506.90 528.90 L507.38 528.90 L507.86 528.88 L508.34 528.84 L508.82 528.80 L509.29 528.74 L509.77 528.68 L510.25 528.62 L510.73 528.55 L511.21 528.49 L511.69 528.43 L512.16 528.38 L512.64 528.34 L513.12 528.32 L513.60 528.31 L514.08 528.32 L514.56 528.35 L515.03 528.39 L515.51 528.45 L515.99 528.53 L516.47 528.61 L516.95 528.70 L517.43 528.80 L517.90 528.90 L518.38 528.99 L518.86 529.08 L519.34 529.16 L519.82 529.22 L520.30 529.25 L520.78 529.27 L521.25 529.26 L521.73 529.21 L522.21 529.11 L522.69 528.96 L523.17 528.68 L523.65 528.17 L524.12 527.17 L524.60 525.42 L525.08 522.96 L525.56 520.72 L526.04 520.61 L526.52 522.63 L526.99 524.89 L527.47 526.45 L527.95 527.29 L528.43 527.67 L528.91 527.84 L529.39 527.94 L529.86 528.00 L530.34 528.07 L530.82 528.13 L531.30 528.20 L531.78 528.27 L532.26 528.35 L532.74 528.43 L533.21 528.52 L533.69 528.60 L534.17 528.67 L534.65 528.74 L535.13 528.79 L535.61 528.84 L536.08 528.87 L536.56 528.88 L537.04 528.88 L537.52 528.87 L538.00 528.84 L538.48 528.79 L538.95 528.73 L539.43 528.67 L539.91 528.60 L540.39 528.52 L540.87 528.45 L541.35 528.38 L541.82 528.32 L542.30 528.27 L542.78 528.23 L543.26 528.21 " fill="none" stroke="#8a38c0" stroke-width="1.35" stroke-linejoin="round"/>
<path d="M347.12 535.00 L347.59 534.93 L348.07 534.84 L348.55 534.75 L349.03 534.65 L349.51 534.54 L349.99 534.43 L350.46 534.31 L350.94 534.19 L351.42 534.06 L351.90 533.89 L352.38 533.60 L352.86 533.07 L353.34 532.11 L353.81 530.79 L354.29 529.76 L354.77 529.36 L355.25 527.30 L355.73 520.86 L356.21 513.27 L356.68 517.03 L357.16 526.16 L357.64 531.50 L358.12 533.55 L358.60 534.35 L359.08 534.77 L359.55 535.04 L360.03 535.22 L360.51 535.34 L360.99 535.41 L361.47 535.44 L361.95 535.44 L362.42 535.41 L362.90 535.36 L363.38 535.29 L363.86 535.21 L364.34 535.12 L364.82 535.03 L365.30 534.93 L365.77 534.84 L366.25 534.74 L366.73 534.66 L367.21 534.58 L367.69 534.52 L368.17 534.46 L368.64 534.40 L369.12 534.35 L369.60 534.28 L370.08 534.20 L370.56 534.07 L371.04 533.83 L371.51 533.30 L371.99 532.04 L372.47 529.32 L372.95 524.84 L373.43 520.32 L373.91 520.36 L374.38 524.95 L374.86 529.49 L375.34 532.26 L375.82 533.57 L376.30 534.12 L376.78 534.36 L377.26 534.47 L377.73 534.51 L378.21 534.50 L378.69 534.47 L379.17 534.42 L379.65 534.37 L380.13 534.31 L380.60 534.25 L381.08 534.19 L381.56 534.15 L382.04 534.12 L382.52 534.11 L383.00 534.11 L383.47 534.13 L383.95 534.16 L384.43 534.20 L384.91 534.26 L385.39 534.32 L385.87 534.38 L386.34 534.43 L386.82 534.48 L387.30 534.50 L387.78 534.51 L388.26 534.48 L388.74 534.42 L389.22 534.32 L389.69 534.20 L390.17 534.04 L390.65 533.86 L391.13 533.67 L391.61 533.50 L392.09 533.36 L392.56 533.27 L393.04 533.25 L393.52 533.28 L394.00 533.36 L394.48 533.46 L394.96 533.58 L395.43 533.69 L395.91 533.79 L396.39 533.89 L396.87 533.97 L397.35 534.04 L397.83 534.11 L398.30 534.16 L398.78 534.21 L399.26 534.25 L399.74 534.28 L400.22 534.30 L400.70 534.31 L401.18 534.30 L401.65 534.24 L402.13 534.13 L402.61 533.92 L403.09 533.47 L403.57 532.40 L404.05 529.60 L404.52 523.63 L405.00 515.32 L405.48 512.49 L405.96 519.39 L406.44 526.90 L406.92 531.06 L407.39 532.72 L407.87 533.28 L408.35 533.44 L408.83 533.38 L409.31 533.01 L409.79 531.86 L410.26 529.27 L410.74 526.39 L411.22 527.48 L411.70 530.43 L412.18 532.09 L412.66 532.60 L413.14 532.65 L413.61 532.50 L414.09 532.16 L414.57 531.42 L415.05 529.52 L415.53 524.67 L416.01 515.09 L416.48 503.92 L416.96 504.02 L417.44 515.40 L417.92 525.18 L418.40 530.21 L418.88 532.27 L419.35 533.16 L419.83 533.62 L420.31 533.88 L420.79 533.99 L421.27 533.96 L421.75 533.78 L422.22 533.44 L422.70 532.98 L423.18 532.51 L423.66 532.22 L424.14 532.26 L424.62 532.48 L425.10 532.70 L425.57 532.78 L426.05 532.70 L426.53 532.45 L427.01 531.99 L427.49 531.23 L427.97 529.78 L428.44 526.61 L428.92 519.78 L429.40 507.82 L429.88 493.61 L430.36 489.13 L430.84 500.05 L431.31 513.61 L431.79 522.45 L432.27 526.44 L432.75 527.41 L433.23 526.27 L433.71 522.22 L434.18 512.93 L434.66 496.34 L435.14 475.24 L435.62 463.78 L436.10 475.42 L436.58 496.73 L437.06 513.56 L437.53 523.21 L438.01 527.77 L438.49 529.83 L438.97 530.85 L439.45 531.40 L439.93 531.67 L440.40 531.74 L440.88 531.65 L441.36 531.42 L441.84 531.11 L442.32 530.82 L442.80 530.70 L443.27 530.84 L443.75 531.15 L444.23 531.50 L444.71 531.79 L445.19 531.97 L445.67 532.04 L446.14 531.98 L446.62 531.78 L447.10 531.40 L447.58 530.77 L448.06 529.66 L448.54 527.45 L449.02 522.58 L449.49 512.30 L449.97 494.36 L450.45 471.67 L450.93 459.32 L451.41 471.66 L451.89 494.34 L452.36 512.26 L452.84 522.51 L453.32 527.34 L453.80 529.48 L454.28 530.50 L454.76 530.99 L455.23 531.14 L455.71 530.93 L456.19 530.13 L456.67 528.14 L457.15 524.03 L457.63 517.23 L458.10 509.08 L458.58 504.88 L459.06 509.30 L459.54 517.67 L460.02 524.70 L460.50 529.06 L460.98 531.33 L461.45 532.46 L461.93 533.06 L462.41 533.40 L462.89 533.55 L463.37 533.45 L463.85 532.81 L464.32 531.20 L464.80 528.45 L465.28 525.64 L465.76 525.69 L466.24 528.61 L466.72 531.48 L467.19 533.22 L467.67 534.01 L468.15 534.32 L468.63 534.42 L469.11 534.45 L469.59 534.43 L470.06 534.39 L470.54 534.33 L471.02 534.28 L471.50 534.22 L471.98 534.18 L472.46 534.15 L472.94 534.13 L473.41 534.13 L473.89 534.14 L474.37 534.18 L474.85 534.22 L475.33 534.29 L475.81 534.36 L476.28 534.45 L476.76 534.54 L477.24 534.64 L477.72 534.73 L478.20 534.82 L478.68 534.91 L479.15 534.98 L479.63 535.04 L480.11 535.09 L480.59 535.12 L481.07 535.13 L481.55 535.13 L482.02 535.11 L482.50 535.08 L482.98 535.03 L483.46 534.97 L483.94 534.89 L484.42 534.80 L484.90 534.70 L485.37 534.57 L485.85 534.41 L486.33 534.22 L486.81 533.99 L487.29 533.75 L487.77 533.56 L488.24 533.50 L488.72 533.61 L489.20 533.85 L489.68 534.14 L490.16 534.42 L490.64 534.67 L491.11 534.87 L491.59 535.05 L492.07 535.19 L492.55 535.32 L493.03 535.43 L493.51 535.53 L493.98 535.60 L494.46 535.67 L494.94 535.71 L495.42 535.73 L495.90 535.73 L496.38 535.70 L496.86 535.66 L497.33 535.60 L497.81 535.53 L498.29 535.44 L498.77 535.33 L499.25 535.22 L499.73 535.11 L500.20 535.00 L500.68 534.89 L501.16 534.79 L501.64 534.70 L502.12 534.63 L502.60 534.57 L503.07 534.52 L503.55 534.50 L504.03 534.49 L504.51 534.50 L504.99 534.53 L505.47 534.58 L505.94 534.63 L506.42 534.70 L506.90 534.77 L507.38 534.84 L507.86 534.92 L508.34 534.99 L508.82 535.05 L509.29 535.11 L509.77 535.15 L510.25 535.17 L510.73 535.19 L511.21 535.18 L511.69 535.17 L512.16 535.13 L512.64 535.09 L513.12 535.03 L513.60 534.96 L514.08 534.89 L514.56 534.82 L515.03 534.75 L515.51 534.68 L515.99 534.62 L516.47 534.58 L516.95 534.54 L517.43 534.52 L517.90 534.51 L518.38 534.52 L518.86 534.55 L519.34 534.59 L519.82 534.64 L520.30 534.70 L520.78 534.77 L521.25 534.83 L521.73 534.88 L522.21 534.91 L522.69 534.89 L523.17 534.77 L523.65 534.42 L524.12 533.58 L524.60 531.98 L525.08 529.67 L525.56 527.57 L526.04 527.57 L526.52 529.69 L526.99 532.01 L527.47 533.61 L527.95 534.46 L528.43 534.82 L528.91 534.95 L529.39 534.98 L529.86 534.95 L530.34 534.91 L530.82 534.85 L531.30 534.79 L531.78 534.73 L532.26 534.68 L532.74 534.64 L533.21 534.61 L533.69 534.60 L534.17 534.61 L534.65 534.63 L535.13 534.66 L535.61 534.71 L536.08 534.76 L536.56 534.83 L537.04 534.90 L537.52 534.96 L538.00 535.03 L538.48 535.09 L538.95 535.15 L539.43 535.19 L539.91 535.22 L540.39 535.23 L540.87 535.23 L541.35 535.21 L541.82 535.18 L542.30 535.13 L542.78 535.07 L543.26 535.01 " fill="none" stroke="#22ae48" stroke-width="1.35" stroke-linejoin="round"/>
<path d="M347.12 541.15 L347.59 541.19 L348.07 541.21 L348.55 541.22 L349.03 541.22 L349.51 541.19 L349.99 541.14 L350.46 541.06 L350.94 540.96 L351.42 540.82 L351.90 540.62 L352.38 540.29 L352.86 539.69 L353.34 538.67 L353.81 537.30 L354.29 536.28 L354.77 536.09 L355.25 534.95 L355.73 530.75 L356.21 525.66 L356.68 528.19 L357.16 534.33 L357.64 537.92 L358.12 539.31 L358.60 539.86 L359.08 540.19 L359.55 540.43 L360.03 540.64 L360.51 540.82 L360.99 540.98 L361.47 541.13 L361.95 541.27 L362.42 541.39 L362.90 541.49 L363.38 541.57 L363.86 541.64 L364.34 541.68 L364.82 541.70 L365.30 541.69 L365.77 541.67 L366.25 541.62 L366.73 541.56 L367.21 541.47 L367.69 541.38 L368.17 541.27 L368.64 541.15 L369.12 541.01 L369.60 540.87 L370.08 540.71 L370.56 540.52 L371.04 540.26 L371.51 539.82 L371.99 538.89 L372.47 536.99 L372.95 533.93 L373.43 530.86 L373.91 530.89 L374.38 534.02 L374.86 537.13 L375.34 539.07 L375.82 540.03 L376.30 540.49 L376.78 540.74 L377.26 540.91 L377.73 541.03 L378.21 541.11 L378.69 541.17 L379.17 541.20 L379.65 541.20 L380.13 541.18 L380.60 541.14 L381.08 541.08 L381.56 541.01 L382.04 540.92 L382.52 540.82 L383.00 540.72 L383.47 540.61 L383.95 540.50 L384.43 540.40 L384.91 540.29 L385.39 540.19 L385.87 540.10 L386.34 540.01 L386.82 539.93 L387.30 539.85 L387.78 539.77 L388.26 539.69 L388.74 539.60 L389.22 539.50 L389.69 539.41 L390.17 539.31 L390.65 539.21 L391.13 539.13 L391.61 539.08 L392.09 539.08 L392.56 539.14 L393.04 539.26 L393.52 539.44 L394.00 539.65 L394.48 539.88 L394.96 540.09 L395.43 540.29 L395.91 540.46 L396.39 540.59 L396.87 540.68 L397.35 540.74 L397.83 540.76 L398.30 540.75 L398.78 540.72 L399.26 540.67 L399.74 540.60 L400.22 540.51 L400.70 540.41 L401.18 540.30 L401.65 540.15 L402.13 539.96 L402.61 539.69 L403.09 539.21 L403.57 538.13 L404.05 535.34 L404.52 529.41 L405.00 521.16 L405.48 518.42 L405.96 525.43 L406.44 533.06 L406.92 537.36 L407.39 539.16 L407.87 539.88 L408.35 540.19 L408.83 540.31 L409.31 540.17 L409.79 539.47 L410.26 537.76 L410.74 535.83 L411.22 536.55 L411.70 538.51 L412.18 539.56 L412.66 539.81 L413.14 539.71 L413.61 539.46 L414.09 539.06 L414.57 538.33 L415.05 536.68 L415.53 532.70 L416.01 524.99 L416.48 516.03 L416.96 516.01 L417.44 524.92 L417.92 532.59 L418.40 536.53 L418.88 538.14 L419.35 538.85 L419.83 539.25 L420.31 539.51 L420.79 539.66 L421.27 539.71 L421.75 539.64 L422.22 539.42 L422.70 539.10 L423.18 538.78 L423.66 538.64 L424.14 538.83 L424.62 539.20 L425.10 539.55 L425.57 539.77 L426.05 539.82 L426.53 539.71 L427.01 539.41 L427.49 538.88 L427.97 537.86 L428.44 535.65 L428.92 530.96 L429.40 522.78 L429.88 513.08 L430.36 509.96 L430.84 517.26 L431.31 526.36 L431.79 532.28 L432.27 534.94 L432.75 535.56 L433.23 534.78 L433.71 532.06 L434.18 525.80 L434.66 514.64 L435.14 500.44 L435.62 492.77 L436.10 500.74 L436.58 515.27 L437.06 526.77 L437.53 533.40 L438.01 536.59 L438.49 538.08 L438.97 538.84 L439.45 539.26 L439.93 539.45 L440.40 539.47 L440.88 539.32 L441.36 539.04 L441.84 538.66 L442.32 538.30 L442.80 538.08 L443.27 538.11 L443.75 538.30 L444.23 538.52 L444.71 538.69 L445.19 538.75 L445.67 538.72 L446.14 538.59 L446.62 538.36 L447.10 538.01 L447.58 537.51 L448.06 536.70 L448.54 535.17 L449.02 531.86 L449.49 524.91 L449.97 512.80 L450.45 497.49 L450.93 489.20 L451.41 497.61 L451.89 513.02 L452.36 525.21 L452.84 532.21 L453.32 535.52 L453.80 536.99 L454.28 537.66 L454.76 537.92 L455.23 537.86 L455.71 537.41 L456.19 536.23 L456.67 533.52 L457.15 528.06 L457.63 519.10 L458.10 508.39 L458.58 502.79 L459.06 508.38 L459.54 519.09 L460.02 528.06 L460.50 533.57 L460.98 536.39 L461.45 537.73 L461.93 538.42 L462.41 538.83 L462.89 539.05 L463.37 539.09 L463.85 538.76 L464.32 537.78 L464.80 536.04 L465.28 534.26 L465.76 534.43 L466.24 536.54 L466.72 538.63 L467.19 539.95 L467.67 540.63 L468.15 540.97 L468.63 541.16 L469.11 541.29 L469.59 541.36 L470.06 541.40 L470.54 541.41 L471.02 541.39 L471.50 541.35 L471.98 541.28 L472.46 541.20 L472.94 541.11 L473.41 541.02 L473.89 540.91 L474.37 540.81 L474.85 540.72 L475.33 540.63 L475.81 540.55 L476.28 540.49 L476.76 540.44 L477.24 540.41 L477.72 540.40 L478.20 540.41 L478.68 540.44 L479.15 540.48 L479.63 540.54 L480.11 540.60 L480.59 540.68 L481.07 540.76 L481.55 540.84 L482.02 540.92 L482.50 540.99 L482.98 541.06 L483.46 541.10 L483.94 541.13 L484.42 541.14 L484.90 541.11 L485.37 541.04 L485.85 540.92 L486.33 540.74 L486.81 540.50 L487.29 540.22 L487.77 539.97 L488.24 539.83 L488.72 539.85 L489.20 539.98 L489.68 540.15 L490.16 540.30 L490.64 540.42 L491.11 540.51 L491.59 540.58 L492.07 540.63 L492.55 540.69 L493.03 540.75 L493.51 540.83 L493.98 540.91 L494.46 541.00 L494.94 541.11 L495.42 541.22 L495.90 541.33 L496.38 541.43 L496.86 541.54 L497.33 541.63 L497.81 541.72 L498.29 541.78 L498.77 541.84 L499.25 541.87 L499.73 541.88 L500.20 541.87 L500.68 541.84 L501.16 541.80 L501.64 541.73 L502.12 541.65 L502.60 541.55 L503.07 541.45 L503.55 541.34 L504.03 541.23 L504.51 541.12 L504.99 541.02 L505.47 540.92 L505.94 540.84 L506.42 540.77 L506.90 540.72 L507.38 540.68 L507.86 540.67 L508.34 540.67 L508.82 540.69 L509.29 540.72 L509.77 540.76 L510.25 540.82 L510.73 540.88 L511.21 540.95 L511.69 541.02 L512.16 541.09 L512.64 541.15 L513.12 541.20 L513.60 541.24 L514.08 541.27 L514.56 541.28 L515.03 541.27 L515.51 541.25 L515.99 541.22 L516.47 541.17 L516.95 541.11 L517.43 541.03 L517.90 540.95 L518.38 540.87 L518.86 540.78 L519.34 540.70 L519.82 540.61 L520.30 540.54 L520.78 540.46 L521.25 540.40 L521.73 540.33 L522.21 540.26 L522.69 540.16 L523.17 539.99 L523.65 539.61 L524.12 538.77 L524.60 537.21 L525.08 534.96 L525.56 532.94 L526.04 533.05 L526.52 535.30 L526.99 537.76 L527.47 539.52 L527.95 540.53 L528.43 541.05 L528.91 541.33 L529.39 541.50 L529.86 541.60 L530.34 541.66 L530.82 541.69 L531.30 541.68 L531.78 541.65 L532.26 541.60 L532.74 541.53 L533.21 541.45 L533.69 541.37 L534.17 541.27 L534.65 541.18 L535.13 541.10 L535.61 541.02 L536.08 540.95 L536.56 540.89 L537.04 540.85 L537.52 540.83 L538.00 540.82 L538.48 540.82 L538.95 540.85 L539.43 540.88 L539.91 540.93 L540.39 540.99 L540.87 541.05 L541.35 541.11 L541.82 541.18 L542.30 541.24 L542.78 541.29 L543.26 541.33 " fill="none" stroke="#16a6ea" stroke-width="1.35" stroke-linejoin="round"/>
<path d="M347.12 547.11 L347.59 547.12 L348.07 547.15 L348.55 547.18 L349.03 547.22 L349.51 547.26 L349.99 547.29 L350.46 547.32 L350.94 547.34 L351.42 547.32 L351.90 547.25 L352.38 547.05 L352.86 546.58 L353.34 545.69 L353.81 544.45 L354.29 543.60 L354.77 543.75 L355.25 543.50 L355.73 541.33 L356.21 538.46 L356.68 539.93 L357.16 543.48 L357.64 545.49 L358.12 546.20 L358.60 546.42 L359.08 546.50 L359.55 546.54 L360.03 546.57 L360.51 546.59 L360.99 546.63 L361.47 546.67 L361.95 546.73 L362.42 546.80 L362.90 546.89 L363.38 546.99 L363.86 547.10 L364.34 547.21 L364.82 547.33 L365.30 547.45 L365.77 547.56 L366.25 547.66 L366.73 547.75 L367.21 547.83 L367.69 547.88 L368.17 547.92 L368.64 547.93 L369.12 547.92 L369.60 547.88 L370.08 547.81 L370.56 547.69 L371.04 547.52 L371.51 547.22 L371.99 546.61 L372.47 545.42 L372.95 543.54 L373.43 541.64 L373.91 541.56 L374.38 543.30 L374.86 545.04 L375.34 546.09 L375.82 546.59 L376.30 546.80 L376.78 546.92 L377.26 547.00 L377.73 547.07 L378.21 547.14 L378.69 547.21 L379.17 547.29 L379.65 547.36 L380.13 547.43 L380.60 547.49 L381.08 547.55 L381.56 547.59 L382.04 547.62 L382.52 547.64 L383.00 547.63 L383.47 547.61 L383.95 547.57 L384.43 547.50 L384.91 547.41 L385.39 547.30 L385.87 547.17 L386.34 547.01 L386.82 546.84 L387.30 546.64 L387.78 546.43 L388.26 546.20 L388.74 545.95 L389.22 545.70 L389.69 545.44 L390.17 545.19 L390.65 544.96 L391.13 544.76 L391.61 544.61 L392.09 544.53 L392.56 544.54 L393.04 544.65 L393.52 544.83 L394.00 545.09 L394.48 545.38 L394.96 545.68 L395.43 545.99 L395.91 546.28 L396.39 546.55 L396.87 546.78 L397.35 546.98 L397.83 547.13 L398.30 547.25 L398.78 547.32 L399.26 547.36 L399.74 547.35 L400.22 547.31 L400.70 547.22 L401.18 547.08 L401.65 546.90 L402.13 546.63 L402.61 546.25 L403.09 545.62 L403.57 544.29 L404.05 541.04 L404.52 534.22 L405.00 524.79 L405.48 521.59 L405.96 529.43 L406.44 537.99 L406.92 542.81 L407.39 544.84 L407.87 545.67 L408.35 546.09 L408.83 546.33 L409.31 546.40 L409.79 546.13 L410.26 545.26 L410.74 544.25 L411.22 544.80 L411.70 546.05 L412.18 546.76 L412.66 546.98 L413.14 546.98 L413.61 546.85 L414.09 546.58 L414.57 546.04 L415.05 544.77 L415.53 541.68 L416.01 535.68 L416.48 528.70 L416.96 528.59 L417.44 535.35 L417.92 541.14 L418.40 544.04 L418.88 545.14 L419.35 545.54 L419.83 545.70 L420.31 545.76 L420.79 545.75 L421.27 545.66 L421.75 545.47 L422.22 545.18 L422.70 544.82 L423.18 544.47 L423.66 544.36 L424.14 544.60 L424.62 545.05 L425.10 545.52 L425.57 545.88 L426.05 546.10 L426.53 546.19 L427.01 546.13 L427.49 545.89 L427.97 545.31 L428.44 543.90 L428.92 540.77 L429.40 535.23 L429.88 528.62 L430.36 526.52 L430.84 531.54 L431.31 537.78 L431.79 541.82 L432.27 543.63 L432.75 544.06 L433.23 543.59 L433.71 541.94 L434.18 538.21 L434.66 531.59 L435.14 523.19 L435.62 518.64 L436.10 523.28 L436.58 531.78 L437.06 538.52 L437.53 542.42 L438.01 544.32 L438.49 545.23 L438.97 545.73 L439.45 546.03 L439.93 546.20 L440.40 546.24 L440.88 546.16 L441.36 545.97 L441.84 545.70 L442.32 545.46 L442.80 545.37 L443.27 545.51 L443.75 545.81 L444.23 546.13 L444.71 546.37 L445.19 546.50 L445.67 546.52 L446.14 546.43 L446.62 546.24 L447.10 545.96 L447.58 545.56 L448.06 544.96 L448.54 543.93 L449.02 541.85 L449.49 537.63 L449.97 530.39 L450.45 521.28 L450.93 516.29 L451.41 521.13 L451.89 530.08 L452.36 537.17 L452.84 541.21 L453.32 543.10 L453.80 543.92 L454.28 544.26 L454.76 544.34 L455.23 544.19 L455.71 543.68 L456.19 542.46 L456.67 539.65 L457.15 533.98 L457.63 524.66 L458.10 513.50 L458.58 507.69 L459.06 513.61 L459.54 524.89 L460.02 534.33 L460.50 540.13 L460.98 543.07 L461.45 544.45 L461.93 545.13 L462.41 545.50 L462.89 545.69 L463.37 545.73 L463.85 545.52 L464.32 544.92 L464.80 543.86 L465.28 542.78 L465.76 542.85 L466.24 544.08 L466.72 545.30 L467.19 546.09 L467.67 546.52 L468.15 546.78 L468.63 546.96 L469.11 547.13 L469.59 547.28 L470.06 547.42 L470.54 547.55 L471.02 547.66 L471.50 547.77 L471.98 547.86 L472.46 547.93 L472.94 547.98 L473.41 548.01 L473.89 548.01 L474.37 548.00 L474.85 547.97 L475.33 547.91 L475.81 547.84 L476.28 547.76 L476.76 547.66 L477.24 547.55 L477.72 547.44 L478.20 547.33 L478.68 547.22 L479.15 547.12 L479.63 547.03 L480.11 546.95 L480.59 546.89 L481.07 546.84 L481.55 546.81 L482.02 546.80 L482.50 546.81 L482.98 546.83 L483.46 546.86 L483.94 546.90 L484.42 546.94 L484.90 546.97 L485.37 546.97 L485.85 546.94 L486.33 546.86 L486.81 546.73 L487.29 546.56 L487.77 546.42 L488.24 546.37 L488.72 546.47 L489.20 546.67 L489.68 546.88 L490.16 547.05 L490.64 547.17 L491.11 547.23 L491.59 547.24 L492.07 547.22 L492.55 547.18 L493.03 547.13 L493.51 547.08 L493.98 547.04 L494.46 547.00 L494.94 546.98 L495.42 546.97 L495.90 546.97 L496.38 546.99 L496.86 547.03 L497.33 547.09 L497.81 547.16 L498.29 547.25 L498.77 547.35 L499.25 547.45 L499.73 547.56 L500.20 547.67 L500.68 547.78 L501.16 547.88 L501.64 547.98 L502.12 548.06 L502.60 548.12 L503.07 548.17 L503.55 548.19 L504.03 548.20 L504.51 548.19 L504.99 548.15 L505.47 548.10 L505.94 548.03 L506.42 547.95 L506.90 547.85 L507.38 547.75 L507.86 547.64 L508.34 547.54 L508.82 547.43 L509.29 547.33 L509.77 547.25 L510.25 547.17 L510.73 547.11 L511.21 547.07 L511.69 547.04 L512.16 547.03 L512.64 547.04 L513.12 547.06 L513.60 547.10 L514.08 547.14 L514.56 547.20 L515.03 547.26 L515.51 547.32 L515.99 547.38 L516.47 547.44 L516.95 547.48 L517.43 547.52 L517.90 547.54 L518.38 547.55 L518.86 547.53 L519.34 547.50 L519.82 547.45 L520.30 547.38 L520.78 547.30 L521.25 547.19 L521.73 547.05 L522.21 546.89 L522.69 546.69 L523.17 546.39 L523.65 545.87 L524.12 544.89 L524.60 543.18 L525.08 540.79 L525.56 538.64 L526.04 538.64 L526.52 540.79 L526.99 543.19 L527.47 544.90 L527.95 545.89 L528.43 546.42 L528.91 546.75 L529.39 546.98 L529.86 547.18 L530.34 547.35 L530.82 547.51 L531.30 547.65 L531.78 547.78 L532.26 547.89 L532.74 547.98 L533.21 548.04 L533.69 548.09 L534.17 548.12 L534.65 548.12 L535.13 548.10 L535.61 548.07 L536.08 548.02 L536.56 547.95 L537.04 547.87 L537.52 547.78 L538.00 547.69 L538.48 547.60 L538.95 547.51 L539.43 547.43 L539.91 547.35 L540.39 547.29 L540.87 547.25 L541.35 547.21 L541.82 547.20 L542.30 547.20 L542.78 547.21 L543.26 547.24 " fill="none" stroke="#000000" stroke-width="1.35" stroke-linejoin="round"/>
<path d="M347.12 553.31 L347.59 553.22 L348.07 553.13 L348.55 553.04 L349.03 552.97 L349.51 552.91 L349.99 552.86 L350.46 552.82 L350.94 552.78 L351.42 552.74 L351.90 552.68 L352.38 552.52 L352.86 552.12 L353.34 551.35 L353.81 550.28 L354.29 549.69 L354.77 550.34 L355.25 551.36 L355.73 551.90 L356.21 552.02 L356.68 552.38 L357.16 552.87 L357.64 553.14 L358.12 553.22 L358.60 553.23 L359.08 553.20 L359.55 553.15 L360.03 553.08 L360.51 553.00 L360.99 552.92 L361.47 552.83 L361.95 552.74 L362.42 552.66 L362.90 552.58 L363.38 552.52 L363.86 552.47 L364.34 552.44 L364.82 552.43 L365.30 552.44 L365.77 552.47 L366.25 552.52 L366.73 552.59 L367.21 552.67 L367.69 552.76 L368.17 552.87 L368.64 552.98 L369.12 553.09 L369.60 553.20 L370.08 553.30 L370.56 553.40 L371.04 553.48 L371.51 553.53 L371.99 553.53 L372.47 553.45 L372.95 553.27 L373.43 553.07 L373.91 553.06 L374.38 553.23 L374.86 553.38 L375.34 553.44 L375.82 553.43 L376.30 553.38 L376.78 553.31 L377.26 553.24 L377.73 553.16 L378.21 553.09 L378.69 553.03 L379.17 552.98 L379.65 552.95 L380.13 552.92 L380.60 552.91 L381.08 552.92 L381.56 552.94 L382.04 552.97 L382.52 553.01 L383.00 553.06 L383.47 553.11 L383.95 553.15 L384.43 553.19 L384.91 553.23 L385.39 553.24 L385.87 553.24 L386.34 553.21 L386.82 553.14 L387.30 553.05 L387.78 552.92 L388.26 552.74 L388.74 552.53 L389.22 552.28 L389.69 552.01 L390.17 551.71 L390.65 551.39 L391.13 551.09 L391.61 550.82 L392.09 550.60 L392.56 550.46 L393.04 550.41 L393.52 550.44 L394.00 550.53 L394.48 550.68 L394.96 550.85 L395.43 551.05 L395.91 551.25 L396.39 551.45 L396.87 551.65 L397.35 551.84 L397.83 552.02 L398.30 552.19 L398.78 552.34 L399.26 552.47 L399.74 552.58 L400.22 552.67 L400.70 552.73 L401.18 552.75 L401.65 552.71 L402.13 552.60 L402.61 552.37 L403.09 551.90 L403.57 550.80 L404.05 547.97 L404.52 541.96 L405.00 533.63 L405.48 530.77 L405.96 537.67 L406.44 545.19 L406.92 549.39 L407.39 551.10 L407.87 551.75 L408.35 552.06 L408.83 552.22 L409.31 552.32 L409.79 552.35 L410.26 552.30 L410.74 552.23 L411.22 552.34 L411.70 552.52 L412.18 552.64 L412.66 552.71 L413.14 552.73 L413.61 552.72 L414.09 552.64 L414.57 552.40 L415.05 551.72 L415.53 549.89 L416.01 546.25 L416.48 541.98 L416.96 541.99 L417.44 546.29 L417.92 549.96 L418.40 551.80 L418.88 552.49 L419.35 552.72 L419.83 552.77 L420.31 552.74 L420.79 552.62 L421.27 552.41 L421.75 552.10 L422.22 551.67 L422.70 551.16 L423.18 550.68 L423.66 550.43 L424.14 550.55 L424.62 550.90 L425.10 551.29 L425.57 551.62 L426.05 551.86 L426.53 552.02 L427.01 552.13 L427.49 552.21 L427.97 552.25 L428.44 552.22 L428.92 552.02 L429.40 551.60 L429.88 551.07 L430.36 550.96 L430.84 551.52 L431.31 552.18 L431.79 552.61 L432.27 552.81 L432.75 552.84 L433.23 552.71 L433.71 552.34 L434.18 551.55 L434.66 550.19 L435.14 548.50 L435.62 547.57 L436.10 548.39 L436.58 549.97 L437.06 551.24 L437.53 551.96 L438.01 552.28 L438.49 552.40 L438.97 552.42 L439.45 552.38 L439.93 552.30 L440.40 552.16 L440.88 551.95 L441.36 551.68 L441.84 551.37 L442.32 551.13 L442.80 551.08 L443.27 551.31 L443.75 551.72 L444.23 552.18 L444.71 552.59 L445.19 552.92 L445.67 553.17 L446.14 553.33 L446.62 553.42 L447.10 553.46 L447.58 553.46 L448.06 553.40 L448.54 553.27 L449.02 552.99 L449.49 552.46 L449.97 551.57 L450.45 550.46 L450.93 549.79 L451.41 550.19 L451.89 551.05 L452.36 551.69 L452.84 551.99 L453.32 552.05 L453.80 551.98 L454.28 551.85 L454.76 551.68 L455.23 551.45 L455.71 551.08 L456.19 550.40 L456.67 548.99 L457.15 546.22 L457.63 541.71 L458.10 536.33 L458.58 533.57 L459.06 536.50 L459.54 542.04 L460.02 546.69 L460.50 549.59 L460.98 551.10 L461.45 551.86 L461.93 552.27 L462.41 552.53 L462.89 552.69 L463.37 552.80 L463.85 552.83 L464.32 552.80 L464.80 552.68 L465.28 552.55 L465.76 552.52 L466.24 552.62 L466.72 552.70 L467.19 552.74 L467.67 552.74 L468.15 552.72 L468.63 552.70 L469.11 552.69 L469.59 552.69 L470.06 552.71 L470.54 552.74 L471.02 552.79 L471.50 552.85 L471.98 552.93 L472.46 553.02 L472.94 553.11 L473.41 553.22 L473.89 553.33 L474.37 553.43 L474.85 553.53 L475.33 553.63 L475.81 553.71 L476.28 553.78 L476.76 553.83 L477.24 553.86 L477.72 553.88 L478.20 553.87 L478.68 553.84 L479.15 553.79 L479.63 553.73 L480.11 553.64 L480.59 553.55 L481.07 553.44 L481.55 553.33 L482.02 553.21 L482.50 553.09 L482.98 552.98 L483.46 552.87 L483.94 552.76 L484.42 552.67 L484.90 552.57 L485.37 552.46 L485.85 552.33 L486.33 552.17 L486.81 551.98 L487.29 551.79 L487.77 551.65 L488.24 551.62 L488.72 551.77 L489.20 552.03 L489.68 552.33 L490.16 552.60 L490.64 552.82 L491.11 552.99 L491.59 553.10 L492.07 553.18 L492.55 553.23 L493.03 553.25 L493.51 553.25 L493.98 553.24 L494.46 553.20 L494.94 553.16 L495.42 553.10 L495.90 553.04 L496.38 552.97 L496.86 552.90 L497.33 552.83 L497.81 552.77 L498.29 552.72 L498.77 552.68 L499.25 552.66 L499.73 552.65 L500.20 552.66 L500.68 552.69 L501.16 552.73 L501.64 552.79 L502.12 552.87 L502.60 552.96 L503.07 553.07 L503.55 553.18 L504.03 553.29 L504.51 553.40 L504.99 553.51 L505.47 553.61 L505.94 553.70 L506.42 553.78 L506.90 553.84 L507.38 553.88 L507.86 553.90 L508.34 553.91 L508.82 553.89 L509.29 553.85 L509.77 553.79 L510.25 553.72 L510.73 553.63 L511.21 553.54 L511.69 553.44 L512.16 553.34 L512.64 553.23 L513.12 553.13 L513.60 553.04 L514.08 552.96 L514.56 552.89 L515.03 552.84 L515.51 552.81 L515.99 552.79 L516.47 552.78 L516.95 552.79 L517.43 552.81 L517.90 552.85 L518.38 552.89 L518.86 552.94 L519.34 552.98 L519.82 553.03 L520.30 553.06 L520.78 553.08 L521.25 553.08 L521.73 553.06 L522.21 552.99 L522.69 552.87 L523.17 552.64 L523.65 552.16 L524.12 551.20 L524.60 549.49 L525.08 547.07 L525.56 544.86 L526.04 544.78 L526.52 546.82 L526.99 549.09 L527.47 550.67 L527.95 551.51 L528.43 551.90 L528.91 552.07 L529.39 552.17 L529.86 552.24 L530.34 552.30 L530.82 552.37 L531.30 552.45 L531.78 552.54 L532.26 552.64 L532.74 552.75 L533.21 552.86 L533.69 552.99 L534.17 553.11 L534.65 553.24 L535.13 553.36 L535.61 553.47 L536.08 553.57 L536.56 553.66 L537.04 553.73 L537.52 553.79 L538.00 553.82 L538.48 553.83 L538.95 553.83 L539.43 553.80 L539.91 553.76 L540.39 553.70 L540.87 553.63 L541.35 553.55 L541.82 553.46 L542.30 553.38 L542.78 553.29 L543.26 553.21 " fill="none" stroke="#f01414" stroke-width="1.35" stroke-linejoin="round"/>
<path d="M338 558 H551.2" stroke="#000" stroke-width="2.2" fill="none"/>
<path d="M351.90 557.8 v7.6" stroke="#000" stroke-width="1.9"/>
<path d="M375.82 557.8 v5.4" stroke="#000" stroke-width="1.9"/>
<path d="M399.74 557.8 v7.6" stroke="#000" stroke-width="1.9"/>
<path d="M423.66 557.8 v5.4" stroke="#000" stroke-width="1.9"/>
<path d="M447.58 557.8 v7.6" stroke="#000" stroke-width="1.9"/>
<path d="M471.50 557.8 v5.4" stroke="#000" stroke-width="1.9"/>
<path d="M495.42 557.8 v7.6" stroke="#000" stroke-width="1.9"/>
<path d="M519.34 557.8 v5.4" stroke="#000" stroke-width="1.9"/>
<path d="M543.26 557.8 v7.6" stroke="#000" stroke-width="1.9"/>
<text x="351.9" y="575.2" font-size="9" text-anchor="middle" fill="#111" font-family="Liberation Sans, sans-serif" font-weight="bold"  stroke="#111" stroke-width="0.18">800</text>
<text x="399.7" y="575.2" font-size="9" text-anchor="middle" fill="#111" font-family="Liberation Sans, sans-serif" font-weight="bold"  stroke="#111" stroke-width="0.18">1200</text>
<text x="447.6" y="575.2" font-size="9" text-anchor="middle" fill="#111" font-family="Liberation Sans, sans-serif" font-weight="bold"  stroke="#111" stroke-width="0.18">1600</text>
<text x="495.4" y="575.2" font-size="9" text-anchor="middle" fill="#111" font-family="Liberation Sans, sans-serif" font-weight="bold"  stroke="#111" stroke-width="0.18">2000</text>
<text x="543.3" y="575.2" font-size="9" text-anchor="middle" fill="#111" font-family="Liberation Sans, sans-serif" font-weight="bold"  stroke="#111" stroke-width="0.18">2400</text>
<text x="447.2" y="590.3" font-size="11.75" stroke="#111" stroke-width="0.18" text-anchor="middle" fill="#111" font-family="Liberation Sans, sans-serif" font-weight="bold">Raman Shift (cm<tspan font-size="7.5" dy="-4.5">-1</tspan><tspan dy="4.5">)</tspan></text>
<text x="450.8" y="394.6" font-size="10.4" text-anchor="middle" fill="#111" font-family="Liberation Sans, sans-serif" font-weight="bold"  stroke="#111" stroke-width="0.18">Target analyte</text>
<path d="M463.40 483.9 L463.40 447.20 L460.30 448.70 L464.9 438.3 L469.50 448.70 L466.40 447.20 L466.40 483.9 Z" fill="#0a0a0a"/>
<text x="525.4" y="441.4" font-size="10.3" text-anchor="middle" fill="#111" font-family="Liberation Sans, sans-serif" font-weight="bold"  stroke="#111" stroke-width="0.18">Internal</text>
<text x="526.2" y="453.6" font-size="10.3" text-anchor="middle" fill="#111" font-family="Liberation Sans, sans-serif" font-weight="bold"  stroke="#111" stroke-width="0.18">standard</text>
<text x="528.0" y="470.6" font-size="10.3" text-anchor="middle" fill="#111" font-family="Liberation Sans, sans-serif" font-weight="bold"  stroke="#111" stroke-width="0.18">(Phenylethynyl</text>
<text x="528.2" y="483.0" font-size="10.3" text-anchor="middle" fill="#111" font-family="Liberation Sans, sans-serif" font-weight="bold"  stroke="#111" stroke-width="0.18">-benzyl)</text><text transform="translate(566.8 322.8) scale(0.955 1)" x="0" y="0" font-size="23.3" fill="#000" stroke="#000" stroke-width="0.3" font-family="Liberation Sans, sans-serif" font-weight="bold">D</text>
<text x="820.6" y="337.3" font-size="18.3" text-anchor="middle" fill="#111" font-family="Liberation Sans, sans-serif" font-weight="bold" stroke="#111" stroke-width="0.33" xml:space="preserve">Ratiometric  MIP</text>
<text x="821.2" y="360.6" font-size="18.4" text-anchor="middle" fill="#111" font-family="Liberation Sans, sans-serif" font-weight="bold" stroke="#111" stroke-width="0.33" xml:space="preserve">Electrochemical  detection</text>
<defs><linearGradient id="redArr2" x1="0" y1="0" x2="1" y2="0.4"><stop offset="0" stop-color="#f08a8a"/><stop offset="0.5" stop-color="#e85e5e"/><stop offset="1" stop-color="#dc4c4c"/></linearGradient></defs>
<polygon points="733.9,450.8 732.5,430.2 737.9,434.0 752.9,412.8 763.3,420.2 748.3,441.4 753.7,445.2" fill="#888" opacity="0.4" filter="url(#b2)"/>
<polygon points="732.4,448.8 731.0,428.2 736.4,432.0 751.4,410.8 761.8,418.2 746.8,439.4 752.2,443.2" fill="url(#redArr2)"/>
<defs>
<linearGradient id="dTop1" x1="0" y1="0" x2="0" y2="1"><stop offset="0" stop-color="#cde6c0"/><stop offset="0.5" stop-color="#bddaae"/><stop offset="1" stop-color="#b1d0a2"/></linearGradient>
<linearGradient id="dSide1" x1="0" y1="0" x2="1" y2="0"><stop offset="0" stop-color="#587a3c"/><stop offset="0.3" stop-color="#6f9050"/><stop offset="0.55" stop-color="#86a76a"/><stop offset="0.8" stop-color="#6d8e4c"/><stop offset="1" stop-color="#55733a"/></linearGradient>
<linearGradient id="dDark1" x1="0" y1="0" x2="1" y2="0"><stop offset="0" stop-color="#383838"/><stop offset="0.35" stop-color="#555"/><stop offset="0.5" stop-color="#727272"/><stop offset="0.7" stop-color="#505050"/><stop offset="1" stop-color="#3a3a3a"/></linearGradient>
<clipPath id="dClip1"><ellipse cx="822.8" cy="391.0" rx="76.5" ry="23.3"/></clipPath>
</defs>
<ellipse cx="823.8" cy="412.5" rx="77.5" ry="24.3" fill="#666" opacity="0.4" filter="url(#b2)"/>
<path d="M746.3 403.0 A76.5 19.1 0 0 0 899.3 403.0 V410.0 A76.5 22.900000000000002 0 0 1 746.3 410.0 Z" fill="url(#dDark1)"/>
<path d="M746.3 391.0 A76.5 23.3 0 0 0 899.3 391.0 V404.0 A76.5 19.1 0 0 1 746.3 404.0 Z" fill="url(#dSide1)"/>
<ellipse cx="822.8" cy="391.0" rx="76.5" ry="23.3" fill="url(#dTop1)"/>
<g clip-path="url(#dClip1)"><ellipse cx="822.8" cy="399.5" rx="73.5" ry="21.8" fill="#a3c494" opacity="0.9"/><ellipse cx="822.8" cy="404.0" rx="60.5" ry="15.3" fill="#adcc9e" opacity="0.7" filter="url(#b2)"/></g>
<ellipse cx="822.8" cy="391.0" rx="76.1" ry="22.900000000000002" fill="none" stroke="#d8ecd0" stroke-width="0.8" opacity="0.9"/>
<circle cx="769.9" cy="385.5" r="5.2" fill="url(#gCream)" opacity="0.8"/>
<circle cx="794.2" cy="378.6" r="5.2" fill="url(#gCream)" opacity="0.8"/>
<circle cx="820.4" cy="383.0" r="5.2" fill="url(#gCream)" opacity="0.8"/>
<circle cx="837.8" cy="374.1" r="5.2" fill="url(#gCream)" opacity="0.8"/>
<circle cx="848.4" cy="385.5" r="5.2" fill="url(#gCream)" opacity="0.8"/>
<circle cx="878.5" cy="386.9" r="5.2" fill="url(#gCream)" opacity="0.8"/>
<circle cx="756.6" cy="397.2" r="5.2" fill="url(#gCream)" opacity="0.8"/>
<circle cx="786.4" cy="396.1" r="5.2" fill="url(#gCream)" opacity="0.8"/>
<circle cx="803.0" cy="388.3" r="5.2" fill="url(#gCream)" opacity="0.8"/>
<circle cx="827.1" cy="395.8" r="5.2" fill="url(#gCream)" opacity="0.8"/>
<circle cx="858.5" cy="396.7" r="5.2" fill="url(#gCream)" opacity="0.8"/>
<circle cx="889.5" cy="396.7" r="5.2" fill="url(#gCream)" opacity="0.8"/>
<circle cx="808.0" cy="404.3" r="5.2" fill="url(#gCream)" opacity="0.8"/>
<circle cx="781.9" cy="408.2" r="5.2" fill="url(#gCreamP)" opacity="0.9"/>
<circle cx="844.3" cy="409.1" r="5.2" fill="url(#gCreamP)" opacity="0.9"/>
<circle cx="875.0" cy="405.2" r="5.2" fill="url(#gCreamP)" opacity="0.9"/>
<circle cx="828.9" cy="416.7" r="5.2" fill="url(#gCreamP)" opacity="0.9"/>
<defs>
<linearGradient id="dTop2" x1="0" y1="0" x2="0" y2="1"><stop offset="0" stop-color="#cde6c0"/><stop offset="0.5" stop-color="#bddaae"/><stop offset="1" stop-color="#b1d0a2"/></linearGradient>
<linearGradient id="dSide2" x1="0" y1="0" x2="1" y2="0"><stop offset="0" stop-color="#587a3c"/><stop offset="0.3" stop-color="#6f9050"/><stop offset="0.55" stop-color="#86a76a"/><stop offset="0.8" stop-color="#6d8e4c"/><stop offset="1" stop-color="#55733a"/></linearGradient>
<linearGradient id="dDark2" x1="0" y1="0" x2="1" y2="0"><stop offset="0" stop-color="#383838"/><stop offset="0.35" stop-color="#555"/><stop offset="0.5" stop-color="#727272"/><stop offset="0.7" stop-color="#505050"/><stop offset="1" stop-color="#3a3a3a"/></linearGradient>
<clipPath id="dClip2"><ellipse cx="683.0" cy="466.8" rx="76.2" ry="23.4"/></clipPath>
</defs>
<ellipse cx="684.0" cy="488.3" rx="77.2" ry="24.4" fill="#666" opacity="0.4" filter="url(#b2)"/>
<path d="M606.8 478.8 A76.2 19.2 0 0 0 759.2 478.8 V485.8 A76.2 23.0 0 0 1 606.8 485.8 Z" fill="url(#dDark2)"/>
<path d="M606.8 466.8 A76.2 23.4 0 0 0 759.2 466.8 V479.8 A76.2 19.2 0 0 1 606.8 479.8 Z" fill="url(#dSide2)"/>
<ellipse cx="683.0" cy="466.8" rx="76.2" ry="23.4" fill="url(#dTop2)"/>
<g clip-path="url(#dClip2)"><ellipse cx="683.0" cy="475.3" rx="73.2" ry="21.9" fill="#a3c494" opacity="0.9"/><ellipse cx="683.0" cy="479.8" rx="60.2" ry="15.399999999999999" fill="#adcc9e" opacity="0.7" filter="url(#b2)"/></g>
<ellipse cx="683.0" cy="466.8" rx="75.8" ry="23.0" fill="none" stroke="#d8ecd0" stroke-width="0.8" opacity="0.9"/>
<circle cx="629.9" cy="460.2" r="5.2" fill="url(#gCream)" opacity="0.8"/>
<circle cx="654.1" cy="453.5" r="5.2" fill="url(#gCream)" opacity="0.8"/>
<circle cx="616.8" cy="472.0" r="5.2" fill="url(#gCream)" opacity="0.8"/>
<circle cx="645.3" cy="471.1" r="5.2" fill="url(#gCream)" opacity="0.8"/>
<circle cx="663.0" cy="464.4" r="5.2" fill="url(#gCream)" opacity="0.8"/>
<circle cx="679.8" cy="457.7" r="5.2" fill="url(#gCream)" opacity="0.8"/>
<circle cx="698.2" cy="449.3" r="5.2" fill="url(#gCream)" opacity="0.8"/>
<circle cx="707.5" cy="461.1" r="5.2" fill="url(#gCream)" opacity="0.8"/>
<circle cx="691.5" cy="472.8" r="5.2" fill="url(#gCream)" opacity="0.8"/>
<circle cx="668.0" cy="479.5" r="5.2" fill="url(#gCream)" opacity="0.8"/>
<circle cx="717.5" cy="471.1" r="5.2" fill="url(#gCream)" opacity="0.8"/>
<circle cx="737.7" cy="461.9" r="5.2" fill="url(#gCream)" opacity="0.8"/>
<circle cx="748.6" cy="471.1" r="5.2" fill="url(#gCream)" opacity="0.8"/>
<circle cx="642.0" cy="484.1" r="5.2" fill="url(#gCreamP)" opacity="0.9"/>
<circle cx="704.1" cy="484.6" r="5.2" fill="url(#gCreamP)" opacity="0.9"/>
<circle cx="734.3" cy="480.4" r="5.2" fill="url(#gCreamP)" opacity="0.9"/>
<circle cx="689.0" cy="493.0" r="5.2" fill="url(#gCreamP)" opacity="0.9"/>
<path d="M634.6 460.2 L638.6 458.2 L642.6 460.0 L638.6 461.2 Z" fill="#465c3c" opacity="0.75"/>
<path d="M638.6 458.4 v-9" stroke="#6f8f62" stroke-width="0.5" opacity="0.8"/>
<path d="M676.6 466.9 L680.6 464.9 L684.6 466.7 L680.6 467.9 Z" fill="#465c3c" opacity="0.75"/>
<path d="M680.6 465.1 v-9" stroke="#6f8f62" stroke-width="0.5" opacity="0.8"/>
<path d="M721.9 460.2 L725.9 458.2 L729.9 460.0 L725.9 461.2 Z" fill="#465c3c" opacity="0.75"/>
<path d="M725.9 458.4 v-9" stroke="#6f8f62" stroke-width="0.5" opacity="0.8"/>
<path d="M628.7 474.1 L632.7 472.1 L636.7 473.9 L632.7 475.1 Z" fill="#465c3c" opacity="0.75"/>
<path d="M632.7 472.3 v-9" stroke="#6f8f62" stroke-width="0.5" opacity="0.8"/>
<path d="M671.6 481.2 L675.6 479.2 L679.6 481.0 L675.6 482.2 Z" fill="#465c3c" opacity="0.75"/>
<path d="M675.6 479.4 v-9" stroke="#6f8f62" stroke-width="0.5" opacity="0.8"/>
<path d="M721.1 474.1 L725.1 472.1 L729.1 473.9 L725.1 475.1 Z" fill="#465c3c" opacity="0.75"/>
<path d="M725.1 472.3 v-9" stroke="#6f8f62" stroke-width="0.5" opacity="0.8"/>
<defs>
<linearGradient id="dTop3" x1="0" y1="0" x2="0" y2="1"><stop offset="0" stop-color="#cde6c0"/><stop offset="0.5" stop-color="#bddaae"/><stop offset="1" stop-color="#b1d0a2"/></linearGradient>
<linearGradient id="dSide3" x1="0" y1="0" x2="1" y2="0"><stop offset="0" stop-color="#587a3c"/><stop offset="0.3" stop-color="#6f9050"/><stop offset="0.55" stop-color="#86a76a"/><stop offset="0.8" stop-color="#6d8e4c"/><stop offset="1" stop-color="#55733a"/></linearGradient>
<linearGradient id="dDark3" x1="0" y1="0" x2="1" y2="0"><stop offset="0" stop-color="#383838"/><stop offset="0.35" stop-color="#555"/><stop offset="0.5" stop-color="#727272"/><stop offset="0.7" stop-color="#505050"/><stop offset="1" stop-color="#3a3a3a"/></linearGradient>
<clipPath id="dClip3"><ellipse cx="958.4" cy="466.8" rx="77.0" ry="23.4"/></clipPath>
</defs>
<ellipse cx="959.4" cy="488.3" rx="78.0" ry="24.4" fill="#666" opacity="0.4" filter="url(#b2)"/>
<path d="M881.4 478.8 A77.0 19.2 0 0 0 1035.4 478.8 V485.8 A77.0 23.0 0 0 1 881.4 485.8 Z" fill="url(#dDark3)"/>
<path d="M881.4 466.8 A77.0 23.4 0 0 0 1035.4 466.8 V479.8 A77.0 19.2 0 0 1 881.4 479.8 Z" fill="url(#dSide3)"/>
<ellipse cx="958.4" cy="466.8" rx="77.0" ry="23.4" fill="url(#dTop3)"/>
<g clip-path="url(#dClip3)"><ellipse cx="958.4" cy="475.3" rx="74.0" ry="21.9" fill="#a3c494" opacity="0.9"/><ellipse cx="958.4" cy="479.8" rx="61.0" ry="15.399999999999999" fill="#adcc9e" opacity="0.7" filter="url(#b2)"/></g>
<ellipse cx="958.4" cy="466.8" rx="76.6" ry="23.0" fill="none" stroke="#d8ecd0" stroke-width="0.8" opacity="0.9"/>
<circle cx="905.3" cy="460.2" r="5.2" fill="url(#gCream)" opacity="0.8"/>
<circle cx="929.5" cy="453.5" r="5.2" fill="url(#gCream)" opacity="0.8"/>
<circle cx="892.2" cy="472.0" r="5.2" fill="url(#gCream)" opacity="0.8"/>
<circle cx="920.7" cy="471.1" r="5.2" fill="url(#gCream)" opacity="0.8"/>
<circle cx="938.4" cy="464.4" r="5.2" fill="url(#gCream)" opacity="0.8"/>
<circle cx="955.2" cy="457.7" r="5.2" fill="url(#gCream)" opacity="0.8"/>
<circle cx="973.6" cy="449.3" r="5.2" fill="url(#gCream)" opacity="0.8"/>
<circle cx="982.9" cy="461.1" r="5.2" fill="url(#gCream)" opacity="0.8"/>
<circle cx="966.9" cy="472.8" r="5.2" fill="url(#gCream)" opacity="0.8"/>
<circle cx="943.4" cy="479.5" r="5.2" fill="url(#gCream)" opacity="0.8"/>
<circle cx="992.9" cy="471.1" r="5.2" fill="url(#gCream)" opacity="0.8"/>
<circle cx="1013.1" cy="461.9" r="5.2" fill="url(#gCream)" opacity="0.8"/>
<circle cx="1024.0" cy="471.1" r="5.2" fill="url(#gCream)" opacity="0.8"/>
<circle cx="917.4" cy="484.1" r="5.2" fill="url(#gCreamP)" opacity="0.9"/>
<circle cx="979.5" cy="484.6" r="5.2" fill="url(#gCreamP)" opacity="0.9"/>
<circle cx="1009.7" cy="480.4" r="5.2" fill="url(#gCreamP)" opacity="0.9"/>
<circle cx="964.4" cy="493.0" r="5.2" fill="url(#gCreamP)" opacity="0.9"/>
<path d="M910.0 460.2 L914.0 458.2 L918.0 460.0 L914.0 461.2 Z" fill="#465c3c" opacity="0.75"/>
<path d="M904.1 474.1 L908.1 472.1 L912.1 473.9 L908.1 475.1 Z" fill="#465c3c" opacity="0.75"/>
<polygon points="952.6,466.9 958.6,461.1 964.6,466.3 959.1,468.7" fill="#0f7a3a"/>
<polygon points="958.6,461.1 964.6,466.3 959.1,468.7" fill="#1fae58"/>
<polygon points="999.2,459.8 1005.2,454.0 1011.2,459.2 1005.7,461.6" fill="#0f7a3a"/>
<polygon points="1005.2,454.0 1011.2,459.2 1005.7,461.6" fill="#1fae58"/>
<polygon points="994.1,473.9 1000.1,468.1 1006.1,473.3 1000.6,475.7" fill="#0f7a3a"/>
<polygon points="1000.1,468.1 1006.1,473.3 1000.6,475.7" fill="#1fae58"/>
<polygon points="944.6,482.0 950.6,476.2 956.6,481.4 951.1,483.8" fill="#0f7a3a"/>
<polygon points="950.6,476.2 956.6,481.4 951.1,483.8" fill="#1fae58"/>
<circle cx="933.3" cy="394.7" r="9.4" fill="url(#gPink)"/>
<polygon points="932.90,420.40 931.08,414.98 934.93,410.40" fill="#2bb85e" stroke="#2bb85e" stroke-width="0.35" stroke-linejoin="round"/><polygon points="932.90,420.40 934.93,410.40 936.68,416.12" fill="#168a42" stroke="#168a42" stroke-width="0.35" stroke-linejoin="round"/><polygon points="932.90,420.40 936.68,416.12 942.57,417.16" fill="#2bb85e" stroke="#2bb85e" stroke-width="0.35" stroke-linejoin="round"/><polygon points="932.90,420.40 942.57,417.16 938.50,421.53" fill="#168a42" stroke="#168a42" stroke-width="0.35" stroke-linejoin="round"/><polygon points="932.90,420.40 938.50,421.53 940.54,427.15" fill="#168a42" stroke="#168a42" stroke-width="0.35" stroke-linejoin="round"/><polygon points="932.90,420.40 940.54,427.15 934.72,425.82" fill="#0a5c28" stroke="#0a5c28" stroke-width="0.35" stroke-linejoin="round"/><polygon points="932.90,420.40 934.72,425.82 930.87,430.40" fill="#168a42" stroke="#168a42" stroke-width="0.35" stroke-linejoin="round"/><polygon points="932.90,420.40 930.87,430.40 929.12,424.68" fill="#0a5c28" stroke="#0a5c28" stroke-width="0.35" stroke-linejoin="round"/><polygon points="932.90,420.40 929.12,424.68 923.23,423.64" fill="#168a42" stroke="#168a42" stroke-width="0.35" stroke-linejoin="round"/><polygon points="932.90,420.40 923.23,423.64 927.30,419.27" fill="#0a5c28" stroke="#0a5c28" stroke-width="0.35" stroke-linejoin="round"/><polygon points="932.90,420.40 927.30,419.27 925.26,413.65" fill="#2bb85e" stroke="#2bb85e" stroke-width="0.35" stroke-linejoin="round"/><polygon points="932.90,420.40 925.26,413.65 931.08,414.98" fill="#168a42" stroke="#168a42" stroke-width="0.35" stroke-linejoin="round"/>
<text x="944.3" y="399" font-size="9" text-anchor="start" fill="#111" font-family="Liberation Sans, sans-serif" font-weight="bold"  stroke="#111" stroke-width="0.18">: Internal Standard</text>
<text x="944.3" y="423.2" font-size="9" text-anchor="start" fill="#111" font-family="Liberation Sans, sans-serif" font-weight="bold"  stroke="#111" stroke-width="0.18">: Analyte</text>
<text x="683" y="424.5" font-size="12.5" text-anchor="middle" fill="#111" font-family="Liberation Sans, sans-serif" font-weight="bold"  stroke="#111" stroke-width="0.18">Ex-situ and in-situ</text>
<text x="682.6" y="439" font-size="12.3" text-anchor="middle" fill="#111" font-family="Liberation Sans, sans-serif" font-weight="bold"  stroke="#111" stroke-width="0.18">polymerization</text>
<path d="M767.2 472.6 H856 V467 L877.6 479.3 L856 491.4 V486 H767.2 Z" fill="#888" opacity="0.45" filter="url(#b2)"/>
<path d="M766.2 470.1 H855 V464.4 L876.2 476.8 L855 489 V483.5 H766.2 Z" fill="url(#redArr)"/>
<polygon points="780.40,457.00 778.62,451.69 782.39,447.20" fill="#2bb85e" stroke="#2bb85e" stroke-width="0.35" stroke-linejoin="round"/><polygon points="780.40,457.00 782.39,447.20 784.11,452.80" fill="#168a42" stroke="#168a42" stroke-width="0.35" stroke-linejoin="round"/><polygon points="780.40,457.00 784.11,452.80 789.88,453.82" fill="#2bb85e" stroke="#2bb85e" stroke-width="0.35" stroke-linejoin="round"/><polygon points="780.40,457.00 789.88,453.82 785.89,458.11" fill="#168a42" stroke="#168a42" stroke-width="0.35" stroke-linejoin="round"/><polygon points="780.40,457.00 785.89,458.11 787.89,463.62" fill="#168a42" stroke="#168a42" stroke-width="0.35" stroke-linejoin="round"/><polygon points="780.40,457.00 787.89,463.62 782.18,462.31" fill="#0a5c28" stroke="#0a5c28" stroke-width="0.35" stroke-linejoin="round"/><polygon points="780.40,457.00 782.18,462.31 778.41,466.80" fill="#168a42" stroke="#168a42" stroke-width="0.35" stroke-linejoin="round"/><polygon points="780.40,457.00 778.41,466.80 776.69,461.20" fill="#0a5c28" stroke="#0a5c28" stroke-width="0.35" stroke-linejoin="round"/><polygon points="780.40,457.00 776.69,461.20 770.92,460.18" fill="#168a42" stroke="#168a42" stroke-width="0.35" stroke-linejoin="round"/><polygon points="780.40,457.00 770.92,460.18 774.91,455.89" fill="#0a5c28" stroke="#0a5c28" stroke-width="0.35" stroke-linejoin="round"/><polygon points="780.40,457.00 774.91,455.89 772.91,450.38" fill="#2bb85e" stroke="#2bb85e" stroke-width="0.35" stroke-linejoin="round"/><polygon points="780.40,457.00 772.91,450.38 778.62,451.69" fill="#168a42" stroke="#168a42" stroke-width="0.35" stroke-linejoin="round"/>
<text x="816.4" y="462.5" font-size="12" text-anchor="middle" fill="#111" font-family="Liberation Sans, sans-serif" font-weight="bold"  stroke="#111" stroke-width="0.18">Analyte</text>
<text x="815.4" y="497.6" font-size="12.2" text-anchor="middle" fill="#111" font-family="Liberation Sans, sans-serif" font-weight="bold"  stroke="#111" stroke-width="0.18">Recognition</text>
<path d="M780.5 557.2 H850 V553 L862 559 L850 565 V560.8 H780.5 Z" fill="#000"/>
<text x="815.8" y="548.9" font-size="10.7" text-anchor="middle" fill="#111" font-family="Liberation Sans, sans-serif" font-weight="bold"  stroke="#111" stroke-width="0.18">Ratiometric</text>
<text x="816.2" y="575.3" font-size="10.8" text-anchor="middle" fill="#111" font-family="Liberation Sans, sans-serif" font-weight="bold"  stroke="#111" stroke-width="0.18">Detection</text>
<path d="M645.4 512.2 V578.7 H762.8" fill="none" stroke="#000" stroke-width="1.2"/>
<path d="M645.4 510.2 l-2.6 4.6 l2.6 -1.2 l2.6 1.2 Z" fill="#000"/>
<path d="M764.8 578.7 l-4.6 -2.6 l1.2 2.6 l-1.2 2.6 Z" fill="#000"/>
<path d="M674.9 578.7 v-3.2" stroke="#000" stroke-width="1"/>
<text x="674.9" y="587.0" font-size="8" text-anchor="middle" fill="#111" font-family="Liberation Sans, sans-serif" font-weight="bold"  stroke="#111" stroke-width="0.18">-0.2</text>
<path d="M706.9 578.7 v-3.2" stroke="#000" stroke-width="1"/>
<text x="706.9" y="587.0" font-size="8" text-anchor="middle" fill="#111" font-family="Liberation Sans, sans-serif" font-weight="bold"  stroke="#111" stroke-width="0.18">0.0</text>
<path d="M738.5 578.7 v-3.2" stroke="#000" stroke-width="1"/>
<text x="738.5" y="587.0" font-size="8" text-anchor="middle" fill="#111" font-family="Liberation Sans, sans-serif" font-weight="bold"  stroke="#111" stroke-width="0.18">0.2</text>
<text x="704.3" y="595.6" font-size="8" text-anchor="middle" fill="#111" font-family="Liberation Sans, sans-serif" font-weight="bold" font-style="italic">E/V</text>
<text x="639.9" y="549.6" font-size="8" text-anchor="middle" fill="#111" font-family="Liberation Sans, sans-serif" font-weight="bold" transform="rotate(-90 639.9 549.6)" stroke="#111" stroke-width="0.18">Current</text>
<path d="M646.20 571.19 L646.70 571.19 L647.20 571.19 L647.70 571.18 L648.20 571.17 L648.70 571.17 L649.20 571.16 L649.70 571.15 L650.20 571.14 L650.70 571.13 L651.20 571.12 L651.70 571.10 L652.20 571.09 L652.70 571.07 L653.20 571.06 L653.70 571.04 L654.20 571.01 L654.70 570.99 L655.20 570.96 L655.70 570.93 L656.20 570.90 L656.70 570.86 L657.20 570.82 L657.70 570.77 L658.20 570.71 L658.70 570.65 L659.20 570.57 L659.70 570.49 L660.20 570.38 L660.70 570.27 L661.20 570.12 L661.70 569.96 L662.20 569.77 L662.70 569.54 L663.20 569.27 L663.70 568.96 L664.20 568.60 L664.70 568.18 L665.20 567.71 L665.70 567.17 L666.20 566.56 L666.70 565.88 L667.20 565.13 L667.70 564.31 L668.20 563.42 L668.70 562.46 L669.20 561.46 L669.70 560.41 L670.20 559.33 L670.70 558.24 L671.20 557.17 L671.70 556.14 L672.20 555.18 L672.70 554.34 L673.20 553.64 L673.70 553.13 L674.20 552.83 L674.70 552.75 L675.20 552.91 L675.70 553.29 L676.20 553.88 L676.70 554.63 L677.20 555.51 L677.70 556.50 L678.20 557.54 L678.70 558.62 L679.20 559.70 L679.70 560.76 L680.20 561.79 L680.70 562.77 L681.20 563.69 L681.70 564.54 L682.20 565.33 L682.70 566.04 L683.20 566.69 L683.70 567.26 L684.20 567.77 L684.70 568.21 L685.20 568.59 L685.70 568.93 L686.20 569.21 L686.70 569.45 L687.20 569.66 L687.70 569.83 L688.20 569.98 L688.70 570.10 L689.20 570.20 L689.70 570.29 L690.20 570.36 L690.70 570.42 L691.20 570.47 L691.70 570.51 L692.20 570.54 L692.70 570.57 L693.20 570.60 L693.70 570.62 L694.20 570.63 L694.70 570.65 L695.20 570.65 L695.70 570.66 L696.20 570.67 L696.70 570.67 L697.20 570.67 L697.70 570.66 L698.20 570.66 L698.70 570.65 L699.20 570.64 L699.70 570.63 L700.20 570.62 L700.70 570.60 L701.20 570.58 L701.70 570.56 L702.20 570.54 L702.70 570.52 L703.20 570.49 L703.70 570.47 L704.20 570.43 L704.70 570.40 L705.20 570.37 L705.70 570.33 L706.20 570.28 L706.70 570.24 L707.20 570.19 L707.70 570.14 L708.20 570.08 L708.70 570.02 L709.20 569.95 L709.70 569.88 L710.20 569.80 L710.70 569.71 L711.20 569.61 L711.70 569.51 L712.20 569.39 L712.70 569.25 L713.20 569.10 L713.70 568.92 L714.20 568.71 L714.70 568.47 L715.20 568.17 L715.70 567.82 L716.20 567.38 L716.70 566.85 L717.20 566.20 L717.70 565.40 L718.20 564.44 L718.70 563.28 L719.20 561.89 L719.70 560.25 L720.20 558.34 L720.70 556.16 L721.20 553.69 L721.70 550.95 L722.20 547.98 L722.70 544.80 L723.20 541.51 L723.70 538.18 L724.20 534.94 L724.70 531.96 L725.20 529.40 L725.70 527.46 L726.20 526.29 L726.70 526.01 L727.20 526.66 L727.70 528.15 L728.20 530.37 L728.70 533.12 L729.20 536.23 L729.70 539.52 L730.20 542.85 L730.70 546.11 L731.20 549.22 L731.70 552.11 L732.20 554.74 L732.70 557.10 L733.20 559.18 L733.70 560.98 L734.20 562.52 L734.70 563.81 L735.20 564.90 L735.70 565.80 L736.20 566.53 L736.70 567.14 L737.20 567.63 L737.70 568.04 L738.20 568.37 L738.70 568.65 L739.20 568.88 L739.70 569.08 L740.20 569.25 L740.70 569.40 L741.20 569.54 L741.70 569.66 L742.20 569.76 L742.70 569.86 L743.20 569.95 L743.70 570.04 L744.20 570.11 L744.70 570.19 L745.20 570.25 L745.70 570.32 L746.20 570.38 L746.70 570.43 L747.20 570.49 L747.70 570.54 L748.20 570.58 L748.70 570.63 L749.20 570.67 L749.70 570.71 L750.20 570.75 L750.70 570.79 L751.20 570.82 L751.70 570.86 L752.20 570.89 L752.70 570.92 L753.20 570.95 L753.70 570.98 L754.20 571.01 L754.70 571.04 L755.20 571.06 " fill="none" stroke="#000" stroke-width="1.15" stroke-linejoin="round"/>
<path d="M884.6 512.2 V578.7 H1001.9" fill="none" stroke="#000" stroke-width="1.2"/>
<path d="M884.6 510.2 l-2.6 4.6 l2.6 -1.2 l2.6 1.2 Z" fill="#000"/>
<path d="M1003.9 578.7 l-4.6 -2.6 l1.2 2.6 l-1.2 2.6 Z" fill="#000"/>
<path d="M913.8 578.7 v-3.2" stroke="#000" stroke-width="1"/>
<text x="913.8" y="587.0" font-size="8" text-anchor="middle" fill="#111" font-family="Liberation Sans, sans-serif" font-weight="bold"  stroke="#111" stroke-width="0.18">-0.2</text>
<path d="M945.6 578.7 v-3.2" stroke="#000" stroke-width="1"/>
<text x="945.6" y="587.0" font-size="8" text-anchor="middle" fill="#111" font-family="Liberation Sans, sans-serif" font-weight="bold"  stroke="#111" stroke-width="0.18">0.0</text>
<path d="M977.5 578.7 v-3.2" stroke="#000" stroke-width="1"/>
<text x="977.5" y="587.0" font-size="8" text-anchor="middle" fill="#111" font-family="Liberation Sans, sans-serif" font-weight="bold"  stroke="#111" stroke-width="0.18">0.2</text>
<text x="943.0" y="595.6" font-size="8" text-anchor="middle" fill="#111" font-family="Liberation Sans, sans-serif" font-weight="bold" font-style="italic">E/V</text>
<text x="879.1" y="549.6" font-size="8" text-anchor="middle" fill="#111" font-family="Liberation Sans, sans-serif" font-weight="bold" transform="rotate(-90 879.1 549.6)" stroke="#111" stroke-width="0.18">Current</text>
<path d="M885.40 571.03 L885.90 571.03 L886.40 571.03 L886.90 571.03 L887.40 571.03 L887.90 571.03 L888.40 571.03 L888.90 571.03 L889.40 571.02 L889.90 571.02 L890.40 571.01 L890.90 571.01 L891.40 571.00 L891.90 570.99 L892.40 570.98 L892.90 570.97 L893.40 570.96 L893.90 570.95 L894.40 570.93 L894.90 570.92 L895.40 570.90 L895.90 570.88 L896.40 570.85 L896.90 570.83 L897.40 570.80 L897.90 570.76 L898.40 570.73 L898.90 570.68 L899.40 570.63 L899.90 570.58 L900.40 570.51 L900.90 570.43 L901.40 570.33 L901.90 570.22 L902.40 570.08 L902.90 569.90 L903.40 569.69 L903.90 569.42 L904.40 569.10 L904.90 568.71 L905.40 568.24 L905.90 567.67 L906.40 567.00 L906.90 566.22 L907.40 565.33 L907.90 564.32 L908.40 563.20 L908.90 561.98 L909.40 560.68 L909.90 559.33 L910.40 557.97 L910.90 556.65 L911.40 555.42 L911.90 554.37 L912.40 553.58 L912.90 553.10 L913.40 552.98 L913.90 553.24 L914.40 553.85 L914.90 554.75 L915.40 555.87 L915.90 557.14 L916.40 558.48 L916.90 559.84 L917.40 561.17 L917.90 562.43 L918.40 563.61 L918.90 564.68 L919.40 565.63 L919.90 566.48 L920.40 567.20 L920.90 567.82 L921.40 568.35 L921.90 568.78 L922.40 569.14 L922.90 569.43 L923.40 569.66 L923.90 569.85 L924.40 570.01 L924.90 570.13 L925.40 570.23 L925.90 570.31 L926.40 570.38 L926.90 570.44 L927.40 570.48 L927.90 570.52 L928.40 570.55 L928.90 570.58 L929.40 570.61 L929.90 570.63 L930.40 570.64 L930.90 570.65 L931.40 570.67 L931.90 570.67 L932.40 570.68 L932.90 570.68 L933.40 570.69 L933.90 570.69 L934.40 570.68 L934.90 570.68 L935.40 570.68 L935.90 570.67 L936.40 570.66 L936.90 570.65 L937.40 570.64 L937.90 570.63 L938.40 570.61 L938.90 570.60 L939.40 570.58 L939.90 570.56 L940.40 570.54 L940.90 570.52 L941.40 570.50 L941.90 570.47 L942.40 570.45 L942.90 570.42 L943.40 570.39 L943.90 570.36 L944.40 570.32 L944.90 570.29 L945.40 570.25 L945.90 570.20 L946.40 570.16 L946.90 570.11 L947.40 570.06 L947.90 570.00 L948.40 569.94 L948.90 569.88 L949.40 569.81 L949.90 569.73 L950.40 569.65 L950.90 569.56 L951.40 569.46 L951.90 569.35 L952.40 569.23 L952.90 569.09 L953.40 568.93 L953.90 568.75 L954.40 568.53 L954.90 568.27 L955.40 567.95 L955.90 567.56 L956.40 567.09 L956.90 566.49 L957.40 565.75 L957.90 564.84 L958.40 563.72 L958.90 562.37 L959.40 560.74 L959.90 558.81 L960.40 556.57 L960.90 554.01 L961.40 551.14 L961.90 547.99 L962.40 544.63 L962.90 541.13 L963.40 537.62 L963.90 534.26 L964.40 531.23 L964.90 528.77 L965.40 527.09 L965.90 526.36 L966.40 526.68 L966.90 527.99 L967.40 530.17 L967.90 533.00 L968.40 536.25 L968.90 539.73 L969.40 543.25 L969.90 546.68 L970.40 549.92 L970.90 552.90 L971.40 555.59 L971.90 557.96 L972.40 560.02 L972.90 561.76 L973.40 563.23 L973.90 564.44 L974.40 565.43 L974.90 566.24 L975.40 566.89 L975.90 567.41 L976.40 567.83 L976.90 568.18 L977.40 568.46 L977.90 568.70 L978.40 568.90 L978.90 569.07 L979.40 569.22 L979.90 569.35 L980.40 569.46 L980.90 569.57 L981.40 569.67 L981.90 569.75 L982.40 569.84 L982.90 569.91 L983.40 569.98 L983.90 570.05 L984.40 570.11 L984.90 570.17 L985.40 570.22 L985.90 570.27 L986.40 570.32 L986.90 570.36 L987.40 570.41 L987.90 570.45 L988.40 570.49 L988.90 570.52 L989.40 570.56 L989.90 570.59 L990.40 570.62 L990.90 570.66 L991.40 570.69 L991.90 570.71 L992.40 570.74 L992.90 570.77 L993.40 570.79 L993.90 570.82 L994.40 570.84 " fill="none" stroke="#000" stroke-width="1.2" stroke-linejoin="round"/>
<path d="M885.40 570.96 L885.90 570.96 L886.40 570.95 L886.90 570.95 L887.40 570.94 L887.90 570.94 L888.40 570.93 L888.90 570.93 L889.40 570.92 L889.90 570.91 L890.40 570.90 L890.90 570.89 L891.40 570.87 L891.90 570.86 L892.40 570.84 L892.90 570.83 L893.40 570.81 L893.90 570.79 L894.40 570.76 L894.90 570.74 L895.40 570.71 L895.90 570.67 L896.40 570.64 L896.90 570.60 L897.40 570.56 L897.90 570.51 L898.40 570.45 L898.90 570.39 L899.40 570.32 L899.90 570.23 L900.40 570.14 L900.90 570.02 L901.40 569.88 L901.90 569.72 L902.40 569.52 L902.90 569.27 L903.40 568.97 L903.90 568.59 L904.40 568.14 L904.90 567.58 L905.40 566.91 L905.90 566.11 L906.40 565.16 L906.90 564.06 L907.40 562.79 L907.90 561.36 L908.40 559.78 L908.90 558.05 L909.40 556.21 L909.90 554.30 L910.40 552.37 L910.90 550.50 L911.40 548.77 L911.90 547.28 L912.40 546.15 L912.90 545.47 L913.40 545.31 L913.90 545.68 L914.40 546.54 L914.90 547.82 L915.40 549.42 L915.90 551.21 L916.40 553.11 L916.90 555.04 L917.40 556.92 L917.90 558.72 L918.40 560.38 L918.90 561.90 L919.40 563.26 L919.90 564.46 L920.40 565.49 L920.90 566.38 L921.40 567.12 L921.90 567.74 L922.40 568.25 L922.90 568.66 L923.40 569.00 L923.90 569.28 L924.40 569.50 L924.90 569.68 L925.40 569.83 L925.90 569.95 L926.40 570.05 L926.90 570.14 L927.40 570.21 L927.90 570.27 L928.40 570.32 L928.90 570.37 L929.40 570.41 L929.90 570.45 L930.40 570.48 L930.90 570.50 L931.40 570.53 L931.90 570.55 L932.40 570.56 L932.90 570.58 L933.40 570.59 L933.90 570.60 L934.40 570.61 L934.90 570.61 L935.40 570.62 L935.90 570.62 L936.40 570.62 L936.90 570.62 L937.40 570.62 L937.90 570.61 L938.40 570.60 L938.90 570.60 L939.40 570.59 L939.90 570.58 L940.40 570.56 L940.90 570.55 L941.40 570.54 L941.90 570.52 L942.40 570.50 L942.90 570.48 L943.40 570.46 L943.90 570.44 L944.40 570.41 L944.90 570.38 L945.40 570.35 L945.90 570.32 L946.40 570.29 L946.90 570.25 L947.40 570.21 L947.90 570.17 L948.40 570.12 L948.90 570.07 L949.40 570.02 L949.90 569.96 L950.40 569.90 L950.90 569.83 L951.40 569.75 L951.90 569.66 L952.40 569.57 L952.90 569.46 L953.40 569.34 L953.90 569.19 L954.40 569.02 L954.90 568.82 L955.40 568.57 L955.90 568.27 L956.40 567.89 L956.90 567.43 L957.40 566.85 L957.90 566.14 L958.40 565.26 L958.90 564.20 L959.40 562.92 L959.90 561.42 L960.40 559.66 L960.90 557.66 L961.40 555.42 L961.90 552.96 L962.40 550.32 L962.90 547.59 L963.40 544.84 L963.90 542.21 L964.40 539.84 L964.90 537.91 L965.40 536.60 L965.90 536.03 L966.40 536.28 L966.90 537.31 L967.40 539.01 L967.90 541.23 L968.40 543.78 L968.90 546.50 L969.40 549.25 L969.90 551.94 L970.40 554.47 L970.90 556.81 L971.40 558.91 L971.90 560.77 L972.40 562.38 L972.90 563.75 L973.40 564.89 L973.90 565.84 L974.40 566.62 L974.90 567.25 L975.40 567.76 L975.90 568.17 L976.40 568.51 L976.90 568.78 L977.40 569.00 L977.90 569.18 L978.40 569.34 L978.90 569.48 L979.40 569.59 L979.90 569.70 L980.40 569.79 L980.90 569.88 L981.40 569.95 L981.90 570.03 L982.40 570.09 L982.90 570.15 L983.40 570.21 L983.90 570.26 L984.40 570.31 L984.90 570.36 L985.40 570.40 L985.90 570.44 L986.40 570.48 L986.90 570.52 L987.40 570.55 L987.90 570.59 L988.40 570.62 L988.90 570.65 L989.40 570.68 L989.90 570.71 L990.40 570.74 L990.90 570.76 L991.40 570.79 L991.90 570.81 L992.40 570.84 L992.90 570.86 L993.40 570.88 L993.90 570.90 L994.40 570.93 " fill="none" stroke="#3cc4f0" stroke-width="1.2" stroke-linejoin="round"/>
<path d="M885.40 570.90 L885.90 570.90 L886.40 570.89 L886.90 570.88 L887.40 570.88 L887.90 570.87 L888.40 570.86 L888.90 570.85 L889.40 570.84 L889.90 570.82 L890.40 570.81 L890.90 570.80 L891.40 570.78 L891.90 570.76 L892.40 570.74 L892.90 570.71 L893.40 570.69 L893.90 570.66 L894.40 570.63 L894.90 570.60 L895.40 570.56 L895.90 570.52 L896.40 570.47 L896.90 570.42 L897.40 570.37 L897.90 570.31 L898.40 570.24 L898.90 570.16 L899.40 570.07 L899.90 569.97 L900.40 569.85 L900.90 569.70 L901.40 569.53 L901.90 569.33 L902.40 569.08 L902.90 568.77 L903.40 568.40 L903.90 567.94 L904.40 567.37 L904.90 566.69 L905.40 565.86 L905.90 564.87 L906.40 563.71 L906.90 562.35 L907.40 560.79 L907.90 559.03 L908.40 557.07 L908.90 554.94 L909.40 552.68 L909.90 550.32 L910.40 547.94 L910.90 545.63 L911.40 543.50 L911.90 541.67 L912.40 540.28 L912.90 539.44 L913.40 539.24 L913.90 539.70 L914.40 540.77 L914.90 542.34 L915.40 544.31 L915.90 546.52 L916.40 548.87 L916.90 551.25 L917.40 553.57 L917.90 555.78 L918.40 557.84 L918.90 559.72 L919.40 561.39 L919.90 562.87 L920.40 564.15 L920.90 565.24 L921.40 566.16 L921.90 566.92 L922.40 567.55 L922.90 568.07 L923.40 568.49 L923.90 568.83 L924.40 569.11 L924.90 569.34 L925.40 569.52 L925.90 569.68 L926.40 569.80 L926.90 569.91 L927.40 570.01 L927.90 570.09 L928.40 570.16 L928.90 570.22 L929.40 570.27 L929.90 570.32 L930.40 570.36 L930.90 570.40 L931.40 570.43 L931.90 570.46 L932.40 570.49 L932.90 570.52 L933.40 570.54 L933.90 570.55 L934.40 570.57 L934.90 570.58 L935.40 570.59 L935.90 570.60 L936.40 570.61 L936.90 570.62 L937.40 570.62 L937.90 570.62 L938.40 570.62 L938.90 570.62 L939.40 570.62 L939.90 570.62 L940.40 570.61 L940.90 570.61 L941.40 570.60 L941.90 570.59 L942.40 570.58 L942.90 570.57 L943.40 570.55 L943.90 570.54 L944.40 570.52 L944.90 570.50 L945.40 570.49 L945.90 570.46 L946.40 570.44 L946.90 570.42 L947.40 570.39 L947.90 570.36 L948.40 570.33 L948.90 570.29 L949.40 570.26 L949.90 570.22 L950.40 570.17 L950.90 570.12 L951.40 570.07 L951.90 570.01 L952.40 569.94 L952.90 569.86 L953.40 569.78 L953.90 569.67 L954.40 569.55 L954.90 569.41 L955.40 569.24 L955.90 569.02 L956.40 568.76 L956.90 568.43 L957.40 568.02 L957.90 567.52 L958.40 566.91 L958.90 566.16 L959.40 565.26 L959.90 564.20 L960.40 562.96 L960.90 561.55 L961.40 559.97 L961.90 558.23 L962.40 556.38 L962.90 554.45 L963.40 552.51 L963.90 550.66 L964.40 548.99 L964.90 547.63 L965.40 546.71 L965.90 546.31 L966.40 546.48 L966.90 547.21 L967.40 548.41 L967.90 549.97 L968.40 551.77 L968.90 553.69 L969.40 555.63 L969.90 557.52 L970.40 559.31 L970.90 560.96 L971.40 562.45 L971.90 563.76 L972.40 564.89 L972.90 565.86 L973.40 566.67 L973.90 567.34 L974.40 567.89 L974.90 568.33 L975.40 568.69 L975.90 568.99 L976.40 569.22 L976.90 569.41 L977.40 569.57 L977.90 569.71 L978.40 569.82 L978.90 569.92 L979.40 570.00 L979.90 570.08 L980.40 570.15 L980.90 570.21 L981.40 570.26 L981.90 570.32 L982.40 570.36 L982.90 570.41 L983.40 570.45 L983.90 570.49 L984.40 570.53 L984.90 570.56 L985.40 570.60 L985.90 570.63 L986.40 570.66 L986.90 570.69 L987.40 570.72 L987.90 570.74 L988.40 570.77 L988.90 570.79 L989.40 570.82 L989.90 570.84 L990.40 570.86 L990.90 570.88 L991.40 570.90 L991.90 570.92 L992.40 570.94 L992.90 570.96 L993.40 570.98 L993.90 571.00 L994.40 571.02 " fill="none" stroke="#2cb84a" stroke-width="1.2" stroke-linejoin="round"/>
<path d="M885.40 570.80 L885.90 570.79 L886.40 570.78 L886.90 570.77 L887.40 570.76 L887.90 570.74 L888.40 570.73 L888.90 570.71 L889.40 570.70 L889.90 570.68 L890.40 570.66 L890.90 570.63 L891.40 570.61 L891.90 570.58 L892.40 570.55 L892.90 570.52 L893.40 570.49 L893.90 570.45 L894.40 570.41 L894.90 570.36 L895.40 570.31 L895.90 570.25 L896.40 570.19 L896.90 570.13 L897.40 570.05 L897.90 569.97 L898.40 569.88 L898.90 569.78 L899.40 569.66 L899.90 569.52 L900.40 569.36 L900.90 569.18 L901.40 568.95 L901.90 568.69 L902.40 568.36 L902.90 567.96 L903.40 567.47 L903.90 566.87 L904.40 566.13 L904.90 565.24 L905.40 564.16 L905.90 562.87 L906.40 561.35 L906.90 559.58 L907.40 557.54 L907.90 555.25 L908.40 552.70 L908.90 549.93 L909.40 546.97 L909.90 543.90 L910.40 540.80 L910.90 537.79 L911.40 535.01 L911.90 532.63 L912.40 530.81 L912.90 529.73 L913.40 529.47 L913.90 530.06 L914.40 531.46 L914.90 533.51 L915.40 536.07 L915.90 538.96 L916.40 542.02 L916.90 545.12 L917.40 548.15 L917.90 551.04 L918.40 553.72 L918.90 556.17 L919.40 558.36 L919.90 560.28 L920.40 561.95 L920.90 563.37 L921.40 564.57 L921.90 565.57 L922.40 566.40 L922.90 567.08 L923.40 567.63 L923.90 568.08 L924.40 568.44 L924.90 568.74 L925.40 568.98 L925.90 569.19 L926.40 569.36 L926.90 569.51 L927.40 569.63 L927.90 569.74 L928.40 569.84 L928.90 569.92 L929.40 569.99 L929.90 570.06 L930.40 570.12 L930.90 570.18 L931.40 570.23 L931.90 570.27 L932.40 570.31 L932.90 570.35 L933.40 570.38 L933.90 570.41 L934.40 570.44 L934.90 570.46 L935.40 570.48 L935.90 570.50 L936.40 570.52 L936.90 570.53 L937.40 570.54 L937.90 570.55 L938.40 570.56 L938.90 570.57 L939.40 570.57 L939.90 570.58 L940.40 570.58 L940.90 570.58 L941.40 570.58 L941.90 570.58 L942.40 570.58 L942.90 570.57 L943.40 570.57 L943.90 570.56 L944.40 570.55 L944.90 570.54 L945.40 570.53 L945.90 570.52 L946.40 570.51 L946.90 570.49 L947.40 570.48 L947.90 570.46 L948.40 570.44 L948.90 570.41 L949.40 570.39 L949.90 570.36 L950.40 570.33 L950.90 570.30 L951.40 570.26 L951.90 570.22 L952.40 570.17 L952.90 570.12 L953.40 570.06 L953.90 569.99 L954.40 569.91 L954.90 569.81 L955.40 569.69 L955.90 569.54 L956.40 569.36 L956.90 569.13 L957.40 568.84 L957.90 568.49 L958.40 568.06 L958.90 567.54 L959.40 566.91 L959.90 566.17 L960.40 565.31 L960.90 564.32 L961.40 563.21 L961.90 562.00 L962.40 560.71 L962.90 559.36 L963.40 558.01 L963.90 556.71 L964.40 555.54 L964.90 554.60 L965.40 553.95 L965.90 553.67 L966.40 553.79 L966.90 554.30 L967.40 555.14 L967.90 556.24 L968.40 557.50 L968.90 558.84 L969.40 560.20 L969.90 561.52 L970.40 562.78 L970.90 563.93 L971.40 564.97 L971.90 565.89 L972.40 566.68 L972.90 567.36 L973.40 567.93 L973.90 568.40 L974.40 568.78 L974.90 569.10 L975.40 569.35 L975.90 569.56 L976.40 569.72 L976.90 569.86 L977.40 569.97 L977.90 570.07 L978.40 570.15 L978.90 570.22 L979.40 570.28 L979.90 570.34 L980.40 570.39 L980.90 570.43 L981.40 570.48 L981.90 570.51 L982.40 570.55 L982.90 570.58 L983.40 570.62 L983.90 570.65 L984.40 570.68 L984.90 570.70 L985.40 570.73 L985.90 570.75 L986.40 570.78 L986.90 570.80 L987.40 570.82 L987.90 570.85 L988.40 570.87 L988.90 570.89 L989.40 570.91 L989.90 570.92 L990.40 570.94 L990.90 570.96 L991.40 570.98 L991.90 571.00 L992.40 571.01 L992.90 571.03 L993.40 571.04 L993.90 571.06 L994.40 571.07 " fill="none" stroke="#ff1a1a" stroke-width="1.2" stroke-linejoin="round"/>
<path d="M885.40 570.70 L885.90 570.69 L886.40 570.68 L886.90 570.66 L887.40 570.64 L887.90 570.63 L888.40 570.61 L888.90 570.59 L889.40 570.56 L889.90 570.54 L890.40 570.51 L890.90 570.48 L891.40 570.45 L891.90 570.42 L892.40 570.38 L892.90 570.34 L893.40 570.29 L893.90 570.25 L894.40 570.19 L894.90 570.14 L895.40 570.07 L895.90 570.00 L896.40 569.93 L896.90 569.85 L897.40 569.76 L897.90 569.65 L898.40 569.54 L898.90 569.41 L899.40 569.27 L899.90 569.10 L900.40 568.91 L900.90 568.68 L901.40 568.41 L901.90 568.08 L902.40 567.68 L902.90 567.19 L903.40 566.60 L903.90 565.86 L904.40 564.97 L904.90 563.88 L905.40 562.56 L905.90 560.99 L906.40 559.14 L906.90 556.98 L907.40 554.50 L907.90 551.70 L908.40 548.60 L908.90 545.22 L909.40 541.62 L909.90 537.88 L910.40 534.10 L910.90 530.43 L911.40 527.04 L911.90 524.14 L912.40 521.93 L912.90 520.60 L913.40 520.29 L913.90 521.02 L914.40 522.71 L914.90 525.22 L915.40 528.34 L915.90 531.87 L916.40 535.60 L916.90 539.37 L917.40 543.07 L917.90 546.58 L918.40 549.86 L918.90 552.84 L919.40 555.51 L919.90 557.85 L920.40 559.89 L920.90 561.62 L921.40 563.09 L921.90 564.31 L922.40 565.31 L922.90 566.14 L923.40 566.81 L923.90 567.36 L924.40 567.81 L924.90 568.18 L925.40 568.48 L925.90 568.73 L926.40 568.94 L926.90 569.12 L927.40 569.28 L927.90 569.41 L928.40 569.53 L928.90 569.64 L929.40 569.73 L929.90 569.82 L930.40 569.89 L930.90 569.96 L931.40 570.03 L931.90 570.08 L932.40 570.14 L932.90 570.18 L933.40 570.23 L933.90 570.27 L934.40 570.30 L934.90 570.34 L935.40 570.37 L935.90 570.39 L936.40 570.42 L936.90 570.44 L937.40 570.46 L937.90 570.48 L938.40 570.50 L938.90 570.51 L939.40 570.52 L939.90 570.53 L940.40 570.54 L940.90 570.55 L941.40 570.56 L941.90 570.56 L942.40 570.57 L942.90 570.57 L943.40 570.57 L943.90 570.57 L944.40 570.57 L944.90 570.57 L945.40 570.56 L945.90 570.56 L946.40 570.55 L946.90 570.55 L947.40 570.54 L947.90 570.53 L948.40 570.52 L948.90 570.51 L949.40 570.49 L949.90 570.48 L950.40 570.46 L950.90 570.44 L951.40 570.42 L951.90 570.39 L952.40 570.37 L952.90 570.33 L953.40 570.30 L953.90 570.25 L954.40 570.20 L954.90 570.14 L955.40 570.06 L955.90 569.97 L956.40 569.85 L956.90 569.71 L957.40 569.52 L957.90 569.30 L958.40 569.03 L958.90 568.69 L959.40 568.29 L959.90 567.82 L960.40 567.27 L960.90 566.64 L961.40 565.93 L961.90 565.16 L962.40 564.33 L962.90 563.47 L963.40 562.60 L963.90 561.78 L964.40 561.03 L964.90 560.43 L965.40 560.01 L965.90 559.84 L966.40 559.92 L966.90 560.25 L967.40 560.78 L967.90 561.49 L968.40 562.29 L968.90 563.15 L969.40 564.02 L969.90 564.87 L970.40 565.67 L970.90 566.41 L971.40 567.08 L971.90 567.67 L972.40 568.18 L972.90 568.61 L973.40 568.98 L973.90 569.28 L974.40 569.53 L974.90 569.74 L975.40 569.90 L975.90 570.03 L976.40 570.14 L976.90 570.23 L977.40 570.31 L977.90 570.37 L978.40 570.43 L978.90 570.47 L979.40 570.52 L979.90 570.55 L980.40 570.59 L980.90 570.62 L981.40 570.65 L981.90 570.68 L982.40 570.71 L982.90 570.73 L983.40 570.75 L983.90 570.78 L984.40 570.80 L984.90 570.82 L985.40 570.84 L985.90 570.86 L986.40 570.88 L986.90 570.89 L987.40 570.91 L987.90 570.93 L988.40 570.95 L988.90 570.96 L989.40 570.98 L989.90 570.99 L990.40 571.01 L990.90 571.02 L991.40 571.04 L991.90 571.05 L992.40 571.07 L992.90 571.08 L993.40 571.09 L993.90 571.11 L994.40 571.12 " fill="none" stroke="#8a3ad0" stroke-width="1.2" stroke-linejoin="round"/>
<path d="M899.50 556.6 L899.50 527.20 L897.30 528.70 L900.2 521.3 L903.10 528.70 L900.90 527.20 L900.90 556.6 Z" fill="#0a0a0a"/>
<path d="M979.50 525.4 L979.50 555.60 L977.30 554.10 L980.2 561.5 L983.10 554.10 L980.90 555.60 L980.90 525.4 Z" fill="#0a0a0a"/>
</g>
</svg>
</body></html>
